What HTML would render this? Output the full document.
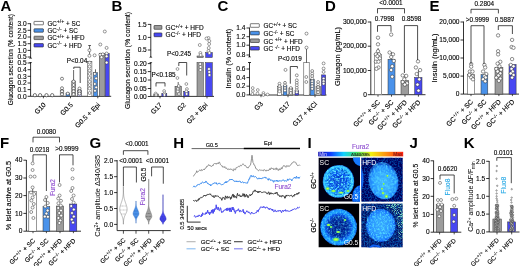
<!DOCTYPE html><html><head><meta charset="utf-8"><style>html,body{margin:0;padding:0;background:#fff;}svg{display:block}</style></head><body><svg width="520" height="266" viewBox="0 0 520 266" font-family="Liberation Sans, Arial, sans-serif">
<rect width="520" height="266" fill="#fff"/>
<text x="0.50" y="10.80" font-size="15" text-anchor="start" fill="#000" font-weight="bold" >A</text>
<text x="13.40" y="59.60" font-size="6.5" text-anchor="middle" fill="#000" stroke="#000" stroke-width="0.12" transform="rotate(-90 13.40 59.60)" >Glucagon secretion (% content)</text>
<line x1="30.60" y1="23.30" x2="30.60" y2="57.50" stroke="#000" stroke-width="0.8"/>
<line x1="30.60" y1="62.60" x2="30.60" y2="96.30" stroke="#000" stroke-width="0.8"/>
<line x1="27.60" y1="23.70" x2="30.60" y2="23.70" stroke="#000" stroke-width="0.8"/>
<text x="26.60" y="25.95" font-size="6.6" text-anchor="end" fill="#000" stroke="#000" stroke-width="0.12" >3.0</text>
<line x1="27.60" y1="30.30" x2="30.60" y2="30.30" stroke="#000" stroke-width="0.8"/>
<text x="26.60" y="32.55" font-size="6.6" text-anchor="end" fill="#000" stroke="#000" stroke-width="0.12" >2.5</text>
<line x1="27.60" y1="37.00" x2="30.60" y2="37.00" stroke="#000" stroke-width="0.8"/>
<text x="26.60" y="39.25" font-size="6.6" text-anchor="end" fill="#000" stroke="#000" stroke-width="0.12" >2.0</text>
<line x1="27.60" y1="43.70" x2="30.60" y2="43.70" stroke="#000" stroke-width="0.8"/>
<text x="26.60" y="45.95" font-size="6.6" text-anchor="end" fill="#000" stroke="#000" stroke-width="0.12" >1.5</text>
<line x1="27.60" y1="50.40" x2="30.60" y2="50.40" stroke="#000" stroke-width="0.8"/>
<text x="26.60" y="52.65" font-size="6.6" text-anchor="end" fill="#000" stroke="#000" stroke-width="0.12" >1.0</text>
<line x1="27.60" y1="57.00" x2="30.60" y2="57.00" stroke="#000" stroke-width="0.8"/>
<text x="26.60" y="59.25" font-size="6.6" text-anchor="end" fill="#000" stroke="#000" stroke-width="0.12" >0.5</text>
<line x1="27.60" y1="63.00" x2="30.60" y2="63.00" stroke="#000" stroke-width="0.8"/>
<text x="26.60" y="65.25" font-size="6.6" text-anchor="end" fill="#000" stroke="#000" stroke-width="0.12" >0.5</text>
<line x1="27.60" y1="69.70" x2="30.60" y2="69.70" stroke="#000" stroke-width="0.8"/>
<text x="26.60" y="71.95" font-size="6.6" text-anchor="end" fill="#000" stroke="#000" stroke-width="0.12" >0.4</text>
<line x1="27.60" y1="76.30" x2="30.60" y2="76.30" stroke="#000" stroke-width="0.8"/>
<text x="26.60" y="78.55" font-size="6.6" text-anchor="end" fill="#000" stroke="#000" stroke-width="0.12" >0.3</text>
<line x1="27.60" y1="83.00" x2="30.60" y2="83.00" stroke="#000" stroke-width="0.8"/>
<text x="26.60" y="85.25" font-size="6.6" text-anchor="end" fill="#000" stroke="#000" stroke-width="0.12" >0.2</text>
<line x1="27.60" y1="89.60" x2="30.60" y2="89.60" stroke="#000" stroke-width="0.8"/>
<text x="26.60" y="91.85" font-size="6.6" text-anchor="end" fill="#000" stroke="#000" stroke-width="0.12" >0.1</text>
<line x1="27.60" y1="96.30" x2="30.60" y2="96.30" stroke="#000" stroke-width="0.8"/>
<text x="26.60" y="98.55" font-size="6.6" text-anchor="end" fill="#000" stroke="#000" stroke-width="0.12" >0.0</text>
<polygon points="29.0,58.6 32.2,58.6 30.6,57" fill="#000"/>
<polygon points="29.0,62.2 32.2,62.2 30.6,63.6" fill="#000"/>
<line x1="30.60" y1="96.30" x2="111.20" y2="96.30" stroke="#000" stroke-width="0.8"/>
<line x1="43.40" y1="96.30" x2="43.40" y2="98.30" stroke="#000" stroke-width="0.7"/>
<line x1="70.50" y1="96.30" x2="70.50" y2="98.30" stroke="#000" stroke-width="0.7"/>
<line x1="97.80" y1="96.30" x2="97.80" y2="98.30" stroke="#000" stroke-width="0.7"/>
<text x="46.30" y="105.40" font-size="6.8" text-anchor="end" fill="#000" stroke="#000" stroke-width="0.12" transform="rotate(-45 46.30 105.40)" >G10</text>
<text x="73.40" y="105.40" font-size="6.8" text-anchor="end" fill="#000" stroke="#000" stroke-width="0.12" transform="rotate(-45 73.40 105.40)" >G0.5</text>
<text x="100.70" y="105.40" font-size="6.8" text-anchor="end" fill="#000" stroke="#000" stroke-width="0.12" transform="rotate(-45 100.70 105.40)" >G0.5 + Epi</text>
<rect x="34" y="21.40" width="9.4" height="3.4" rx="0.45" fill="#ffffff" stroke="#222" stroke-width="0.6"/>
<text x="47.40" y="25.60" font-size="6.3" text-anchor="start" fill="#000" stroke="#000" stroke-width="0.12" >GC<tspan dy="-2.4" font-size="5.2" stroke-width="0.08">+/+</tspan><tspan dy="2.4"> + SC</tspan></text>
<rect x="34" y="28.80" width="9.4" height="3.4" rx="0.45" fill="#4a92ea" stroke="#222" stroke-width="0.6"/>
<text x="47.40" y="33.00" font-size="6.3" text-anchor="start" fill="#000" stroke="#000" stroke-width="0.12" >GC<tspan dy="-2.4" font-size="5.2" stroke-width="0.08">-/-</tspan><tspan dy="2.4"> + SC</tspan></text>
<rect x="34" y="36.20" width="9.4" height="3.4" rx="0.45" fill="#9c9c9c" stroke="#222" stroke-width="0.6"/>
<text x="47.40" y="40.40" font-size="6.3" text-anchor="start" fill="#000" stroke="#000" stroke-width="0.12" >GC<tspan dy="-2.4" font-size="5.2" stroke-width="0.08">+/+</tspan><tspan dy="2.4"> + HFD</tspan></text>
<rect x="34" y="43.60" width="9.4" height="3.4" rx="0.45" fill="#4848f2" stroke="#222" stroke-width="0.6"/>
<text x="47.40" y="47.80" font-size="6.3" text-anchor="start" fill="#000" stroke="#000" stroke-width="0.12" >GC<tspan dy="-2.4" font-size="5.2" stroke-width="0.08">-/-</tspan><tspan dy="2.4"> + HFD</tspan></text>
<circle cx="34.90" cy="95.20" r="1.65" fill="#fff" stroke="#222" stroke-width="0.6"/>
<circle cx="40.10" cy="95.20" r="1.65" fill="#fff" stroke="#222" stroke-width="0.6"/>
<circle cx="46.50" cy="95.20" r="1.65" fill="#fff" stroke="#222" stroke-width="0.6"/>
<circle cx="52.20" cy="95.20" r="1.65" fill="#fff" stroke="#222" stroke-width="0.6"/>
<rect x="60.20" y="90.00" width="3.60" height="6.30" fill="#ffffff" stroke="#333" stroke-width="0.5"/>
<circle cx="62.00" cy="78.70" r="1.5" fill="#fff" stroke="#222" stroke-width="0.55"/>
<circle cx="62.00" cy="88.20" r="1.5" fill="#fff" stroke="#222" stroke-width="0.55"/>
<circle cx="62.00" cy="91.30" r="1.5" fill="#fff" stroke="#222" stroke-width="0.55"/>
<circle cx="62.00" cy="94.20" r="1.5" fill="#fff" stroke="#222" stroke-width="0.55"/>
<rect x="66.00" y="93.00" width="3.60" height="3.30" fill="#4a92ea" stroke="#333" stroke-width="0.5"/>
<circle cx="67.80" cy="93.60" r="1.5" fill="#fff" stroke="#222" stroke-width="0.55"/>
<rect x="71.80" y="81.00" width="3.70" height="15.30" fill="#d0d0d0" stroke="#333" stroke-width="0.5"/>
<line x1="73.60" y1="70.00" x2="73.60" y2="81.00" stroke="#000" stroke-width="0.6"/>
<circle cx="73.60" cy="81.50" r="1.5" fill="#fff" stroke="#222" stroke-width="0.55"/>
<circle cx="73.60" cy="85.00" r="1.5" fill="#fff" stroke="#222" stroke-width="0.55"/>
<circle cx="73.60" cy="88.50" r="1.5" fill="#fff" stroke="#222" stroke-width="0.55"/>
<circle cx="73.60" cy="91.30" r="1.5" fill="#fff" stroke="#222" stroke-width="0.55"/>
<circle cx="73.60" cy="94.20" r="1.5" fill="#fff" stroke="#222" stroke-width="0.55"/>
<rect x="77.60" y="90.00" width="3.80" height="6.30" fill="#c8c8f0" stroke="#333" stroke-width="0.5"/>
<circle cx="79.50" cy="88.50" r="1.5" fill="#fff" stroke="#222" stroke-width="0.55"/>
<circle cx="79.50" cy="91.30" r="1.5" fill="#fff" stroke="#222" stroke-width="0.55"/>
<circle cx="79.50" cy="93.60" r="1.5" fill="#fff" stroke="#222" stroke-width="0.55"/>
<polyline points="73.80,69.00 73.80,67.20 80.20,67.20 80.20,83.00" fill="none" stroke="#000" stroke-width="0.7"/>
<text x="77.00" y="63.00" font-size="6.4" text-anchor="middle" fill="#000" stroke="#000" stroke-width="0.12" >P&lt;0.04</text>
<rect x="87.40" y="61.40" width="4.50" height="34.90" fill="#ffffff" stroke="#333" stroke-width="0.5"/>
<circle cx="89.60" cy="62.60" r="1.45" fill="#fff" stroke="#333" stroke-width="0.5"/>
<circle cx="89.60" cy="66.60" r="1.45" fill="#fff" stroke="#333" stroke-width="0.5"/>
<circle cx="89.60" cy="70.50" r="1.45" fill="#fff" stroke="#333" stroke-width="0.5"/>
<circle cx="89.60" cy="73.90" r="1.45" fill="#fff" stroke="#333" stroke-width="0.5"/>
<circle cx="89.60" cy="77.90" r="1.45" fill="#fff" stroke="#333" stroke-width="0.5"/>
<circle cx="89.60" cy="81.80" r="1.45" fill="#fff" stroke="#333" stroke-width="0.5"/>
<circle cx="89.60" cy="85.10" r="1.45" fill="#fff" stroke="#333" stroke-width="0.5"/>
<circle cx="89.60" cy="88.50" r="1.45" fill="#fff" stroke="#333" stroke-width="0.5"/>
<circle cx="89.60" cy="93.00" r="1.45" fill="#fff" stroke="#333" stroke-width="0.5"/>
<line x1="89.60" y1="45.50" x2="89.60" y2="55.80" stroke="#000" stroke-width="0.6"/>
<line x1="88.20" y1="45.50" x2="91.00" y2="45.50" stroke="#000" stroke-width="0.6"/>
<circle cx="89.40" cy="50.20" r="1.5" fill="#fff" stroke="#333" stroke-width="0.5"/>
<circle cx="89.40" cy="55.80" r="1.5" fill="#fff" stroke="#333" stroke-width="0.5"/>
<circle cx="94.60" cy="55.30" r="1.5" fill="#fff" stroke="#333" stroke-width="0.5"/>
<rect x="93.50" y="72.70" width="4.00" height="23.60" fill="#4a92ea" stroke="#333" stroke-width="0.5"/>
<line x1="95.50" y1="69.30" x2="95.50" y2="72.70" stroke="#000" stroke-width="0.6"/>
<circle cx="94.80" cy="73.90" r="1.45" fill="#fff" stroke="#333" stroke-width="0.5"/>
<circle cx="96.20" cy="78.40" r="1.45" fill="#fff" stroke="#333" stroke-width="0.5"/>
<circle cx="94.80" cy="84.00" r="1.45" fill="#fff" stroke="#333" stroke-width="0.5"/>
<circle cx="96.20" cy="87.40" r="1.45" fill="#fff" stroke="#333" stroke-width="0.5"/>
<circle cx="95.00" cy="90.80" r="1.45" fill="#fff" stroke="#333" stroke-width="0.5"/>
<rect x="99.30" y="53.50" width="5.00" height="42.80" fill="#9c9c9c" stroke="#333" stroke-width="0.5"/>
<circle cx="100.30" cy="44.50" r="1.5" fill="#fff" stroke="#333" stroke-width="0.5"/>
<circle cx="100.30" cy="54.70" r="1.5" fill="#fff" stroke="#333" stroke-width="0.5"/>
<circle cx="102.80" cy="54.30" r="1.5" fill="#fff" stroke="#333" stroke-width="0.5"/>
<circle cx="101.50" cy="57.20" r="1.5" fill="#fff" stroke="#333" stroke-width="0.5"/>
<rect x="105.20" y="53.50" width="4.00" height="42.80" fill="#4848f2" stroke="#333" stroke-width="0.5"/>
<circle cx="106.60" cy="47.90" r="1.5" fill="#fff" stroke="#333" stroke-width="0.5"/>
<circle cx="106.60" cy="53.50" r="1.5" fill="#fff" stroke="#333" stroke-width="0.5"/>
<circle cx="106.60" cy="56.30" r="1.5" fill="#fff" stroke="#333" stroke-width="0.5"/>
<circle cx="106.60" cy="62.60" r="1.5" fill="#fff" stroke="#333" stroke-width="0.5"/>
<circle cx="104.80" cy="31.50" r="1.5" fill="#fff" stroke="#333" stroke-width="0.5"/>
<text x="111.60" y="10.80" font-size="15" text-anchor="start" fill="#000" font-weight="bold" >B</text>
<text x="130.00" y="60.50" font-size="6.95" text-anchor="middle" fill="#000" stroke="#000" stroke-width="0.12" transform="rotate(-90 130.00 60.50)" >Glucagon secretion (% content)</text>
<line x1="150.80" y1="24.00" x2="150.80" y2="56.50" stroke="#000" stroke-width="0.8"/>
<line x1="150.80" y1="63.00" x2="150.80" y2="96.40" stroke="#000" stroke-width="0.8"/>
<line x1="147.80" y1="24.40" x2="150.80" y2="24.40" stroke="#000" stroke-width="0.8"/>
<text x="146.80" y="26.65" font-size="6.6" text-anchor="end" fill="#000" stroke="#000" stroke-width="0.12" >1.5</text>
<line x1="147.80" y1="37.40" x2="150.80" y2="37.40" stroke="#000" stroke-width="0.8"/>
<text x="146.80" y="39.65" font-size="6.6" text-anchor="end" fill="#000" stroke="#000" stroke-width="0.12" >1.0</text>
<line x1="147.80" y1="50.00" x2="150.80" y2="50.00" stroke="#000" stroke-width="0.8"/>
<text x="146.80" y="52.25" font-size="6.6" text-anchor="end" fill="#000" stroke="#000" stroke-width="0.12" >0.5</text>
<line x1="147.80" y1="63.60" x2="150.80" y2="63.60" stroke="#000" stroke-width="0.8"/>
<text x="146.80" y="65.85" font-size="6.6" text-anchor="end" fill="#000" stroke="#000" stroke-width="0.12" >0.20</text>
<line x1="147.80" y1="71.60" x2="150.80" y2="71.60" stroke="#000" stroke-width="0.8"/>
<text x="146.80" y="73.85" font-size="6.6" text-anchor="end" fill="#000" stroke="#000" stroke-width="0.12" >0.15</text>
<line x1="147.80" y1="80.00" x2="150.80" y2="80.00" stroke="#000" stroke-width="0.8"/>
<text x="146.80" y="82.25" font-size="6.6" text-anchor="end" fill="#000" stroke="#000" stroke-width="0.12" >0.10</text>
<line x1="147.80" y1="88.50" x2="150.80" y2="88.50" stroke="#000" stroke-width="0.8"/>
<text x="146.80" y="90.75" font-size="6.6" text-anchor="end" fill="#000" stroke="#000" stroke-width="0.12" >0.05</text>
<line x1="147.80" y1="96.50" x2="150.80" y2="96.50" stroke="#000" stroke-width="0.8"/>
<text x="146.80" y="98.75" font-size="6.6" text-anchor="end" fill="#000" stroke="#000" stroke-width="0.12" >0.00</text>
<polygon points="149.20000000000002,57.6 152.4,57.6 150.8,56" fill="#000"/>
<polygon points="149.20000000000002,62.2 152.4,62.2 150.8,63.6" fill="#000"/>
<line x1="150.80" y1="96.40" x2="214.00" y2="96.40" stroke="#000" stroke-width="0.8"/>
<line x1="160.00" y1="96.40" x2="160.00" y2="98.40" stroke="#000" stroke-width="0.7"/>
<line x1="184.00" y1="96.40" x2="184.00" y2="98.40" stroke="#000" stroke-width="0.7"/>
<line x1="207.00" y1="96.40" x2="207.00" y2="98.40" stroke="#000" stroke-width="0.7"/>
<text x="162.50" y="105.40" font-size="6.8" text-anchor="end" fill="#000" stroke="#000" stroke-width="0.12" transform="rotate(-45 162.50 105.40)" >G17</text>
<text x="186.50" y="105.40" font-size="6.8" text-anchor="end" fill="#000" stroke="#000" stroke-width="0.12" transform="rotate(-45 186.50 105.40)" >G2</text>
<text x="208.00" y="105.40" font-size="6.8" text-anchor="end" fill="#000" stroke="#000" stroke-width="0.12" transform="rotate(-45 208.00 105.40)" >G2 + Epi</text>
<rect x="154" y="25.50" width="7.9" height="3.8" rx="0.45" fill="#9c9c9c" stroke="#222" stroke-width="0.6"/>
<text x="165.60" y="30.00" font-size="6.5" text-anchor="start" fill="#000" stroke="#000" stroke-width="0.12" >GC<tspan dy="-2.4" font-size="5.2" stroke-width="0.08">+/+</tspan><tspan dy="2.4"> + HFD</tspan></text>
<rect x="154" y="32.90" width="7.9" height="3.8" rx="0.45" fill="#4848f2" stroke="#222" stroke-width="0.6"/>
<text x="165.60" y="37.40" font-size="6.5" text-anchor="start" fill="#000" stroke="#000" stroke-width="0.12" >GC<tspan dy="-2.4" font-size="5.2" stroke-width="0.08">-/-</tspan><tspan dy="2.4"> + HFD</tspan></text>
<rect x="153.80" y="94.00" width="4.60" height="2.40" fill="#9c9c9c" stroke="#333" stroke-width="0.5"/>
<circle cx="155.69" cy="93.50" r="1.4" fill="#fff" stroke="#444" stroke-width="0.5"/>
<circle cx="156.05" cy="95.00" r="1.4" fill="#fff" stroke="#444" stroke-width="0.5"/>
<rect x="161.80" y="93.50" width="5.00" height="2.90" fill="#4848f2" stroke="#333" stroke-width="0.5"/>
<circle cx="164.14" cy="91.00" r="1.4" fill="#fff" stroke="#444" stroke-width="0.5"/>
<circle cx="164.42" cy="93.50" r="1.4" fill="#fff" stroke="#444" stroke-width="0.5"/>
<circle cx="164.45" cy="95.00" r="1.4" fill="#fff" stroke="#444" stroke-width="0.5"/>
<polyline points="156.00,86.50 156.00,82.80 165.00,82.80 165.00,86.50" fill="none" stroke="#000" stroke-width="0.7"/>
<text x="163.50" y="77.00" font-size="6.4" text-anchor="middle" fill="#000" stroke="#000" stroke-width="0.12" >P&lt;0.185</text>
<rect x="175.00" y="86.40" width="6.30" height="10.00" fill="#9c9c9c" stroke="#333" stroke-width="0.5"/>
<line x1="178.20" y1="82.00" x2="178.20" y2="86.40" stroke="#000" stroke-width="0.6"/>
<circle cx="177.50" cy="69.00" r="1.4" fill="#fff" stroke="#444" stroke-width="0.5"/>
<circle cx="177.42" cy="78.00" r="1.4" fill="#fff" stroke="#444" stroke-width="0.5"/>
<circle cx="178.74" cy="86.00" r="1.4" fill="#fff" stroke="#444" stroke-width="0.5"/>
<circle cx="177.81" cy="89.00" r="1.4" fill="#fff" stroke="#444" stroke-width="0.5"/>
<circle cx="177.77" cy="91.50" r="1.4" fill="#fff" stroke="#444" stroke-width="0.5"/>
<circle cx="178.99" cy="94.00" r="1.4" fill="#fff" stroke="#444" stroke-width="0.5"/>
<rect x="183.70" y="91.30" width="5.30" height="5.10" fill="#4848f2" stroke="#333" stroke-width="0.5"/>
<circle cx="186.35" cy="84.00" r="1.4" fill="#fff" stroke="#444" stroke-width="0.5"/>
<circle cx="186.94" cy="89.00" r="1.4" fill="#fff" stroke="#444" stroke-width="0.5"/>
<circle cx="186.36" cy="91.50" r="1.4" fill="#fff" stroke="#444" stroke-width="0.5"/>
<circle cx="186.62" cy="94.00" r="1.4" fill="#fff" stroke="#444" stroke-width="0.5"/>
<polyline points="178.80,66.00 178.80,62.50 186.70,62.50 186.70,75.50" fill="none" stroke="#000" stroke-width="0.7"/>
<text x="179.00" y="55.50" font-size="6.4" text-anchor="middle" fill="#000" stroke="#000" stroke-width="0.12" >P&lt;0.245</text>
<rect x="197.00" y="62.60" width="6.30" height="33.80" fill="#9c9c9c" stroke="#333" stroke-width="0.5"/>
<rect x="197.00" y="56.00" width="6.30" height="1.50" fill="#9c9c9c" stroke="#333" stroke-width="0.5"/>
<rect x="205.70" y="62.60" width="6.60" height="33.80" fill="#4848f2" stroke="#333" stroke-width="0.5"/>
<rect x="205.70" y="52.60" width="6.60" height="4.90" fill="#4848f2" stroke="#333" stroke-width="0.5"/>
<circle cx="199.78" cy="45.00" r="1.5" fill="#fff" stroke="#444" stroke-width="0.5"/>
<circle cx="200.36" cy="53.00" r="1.5" fill="#fff" stroke="#444" stroke-width="0.5"/>
<circle cx="200.64" cy="55.00" r="1.5" fill="#fff" stroke="#444" stroke-width="0.5"/>
<circle cx="200.23" cy="64.00" r="1.5" fill="#fff" stroke="#444" stroke-width="0.5"/>
<circle cx="200.49" cy="67.00" r="1.5" fill="#fff" stroke="#444" stroke-width="0.5"/>
<circle cx="200.41" cy="70.00" r="1.5" fill="#fff" stroke="#444" stroke-width="0.5"/>
<circle cx="208.48" cy="38.00" r="1.5" fill="#fff" stroke="#444" stroke-width="0.5"/>
<circle cx="209.31" cy="41.00" r="1.5" fill="#fff" stroke="#444" stroke-width="0.5"/>
<circle cx="209.11" cy="44.00" r="1.5" fill="#fff" stroke="#444" stroke-width="0.5"/>
<circle cx="208.76" cy="48.00" r="1.5" fill="#fff" stroke="#444" stroke-width="0.5"/>
<circle cx="208.44" cy="51.00" r="1.5" fill="#fff" stroke="#444" stroke-width="0.5"/>
<circle cx="209.44" cy="53.00" r="1.5" fill="#fff" stroke="#444" stroke-width="0.5"/>
<circle cx="208.97" cy="69.00" r="1.5" fill="#fff" stroke="#444" stroke-width="0.5"/>
<circle cx="209.26" cy="72.00" r="1.5" fill="#fff" stroke="#444" stroke-width="0.5"/>
<circle cx="209.45" cy="75.00" r="1.5" fill="#fff" stroke="#444" stroke-width="0.5"/>
<circle cx="206.50" cy="38.50" r="1.5" fill="#fff" stroke="#333" stroke-width="0.5"/>
<text x="217.60" y="11.40" font-size="15" text-anchor="start" fill="#000" font-weight="bold" >C</text>
<text x="231.50" y="58.70" font-size="7.2" text-anchor="middle" fill="#000" stroke="#000" stroke-width="0.12" transform="rotate(-90 231.50 58.70)" >Insulin (% content)</text>
<line x1="249.50" y1="27.50" x2="249.50" y2="56.20" stroke="#000" stroke-width="0.8"/>
<line x1="249.50" y1="62.50" x2="249.50" y2="95.00" stroke="#000" stroke-width="0.8"/>
<line x1="246.50" y1="28.00" x2="249.50" y2="28.00" stroke="#000" stroke-width="0.8"/>
<text x="245.50" y="30.25" font-size="6.6" text-anchor="end" fill="#000" stroke="#000" stroke-width="0.12" >1.4</text>
<line x1="246.50" y1="36.70" x2="249.50" y2="36.70" stroke="#000" stroke-width="0.8"/>
<text x="245.50" y="38.95" font-size="6.6" text-anchor="end" fill="#000" stroke="#000" stroke-width="0.12" >1.2</text>
<line x1="246.50" y1="45.20" x2="249.50" y2="45.20" stroke="#000" stroke-width="0.8"/>
<text x="245.50" y="47.45" font-size="6.6" text-anchor="end" fill="#000" stroke="#000" stroke-width="0.12" >1.0</text>
<line x1="246.50" y1="55.00" x2="249.50" y2="55.00" stroke="#000" stroke-width="0.8"/>
<text x="245.50" y="57.25" font-size="6.6" text-anchor="end" fill="#000" stroke="#000" stroke-width="0.12" >0.8</text>
<line x1="246.50" y1="69.00" x2="249.50" y2="69.00" stroke="#000" stroke-width="0.8"/>
<text x="245.50" y="71.25" font-size="6.6" text-anchor="end" fill="#000" stroke="#000" stroke-width="0.12" >0.6</text>
<line x1="246.50" y1="77.60" x2="249.50" y2="77.60" stroke="#000" stroke-width="0.8"/>
<text x="245.50" y="79.85" font-size="6.6" text-anchor="end" fill="#000" stroke="#000" stroke-width="0.12" >0.4</text>
<line x1="246.50" y1="86.20" x2="249.50" y2="86.20" stroke="#000" stroke-width="0.8"/>
<text x="245.50" y="88.45" font-size="6.6" text-anchor="end" fill="#000" stroke="#000" stroke-width="0.12" >0.2</text>
<line x1="246.50" y1="94.90" x2="249.50" y2="94.90" stroke="#000" stroke-width="0.8"/>
<text x="245.50" y="97.15" font-size="6.6" text-anchor="end" fill="#000" stroke="#000" stroke-width="0.12" >0.0</text>
<polygon points="248.0,57.2 251.0,57.2 249.5,55.8" fill="#000"/>
<line x1="248.00" y1="62.50" x2="251.00" y2="62.50" stroke="#000" stroke-width="0.8"/>
<line x1="249.50" y1="95.00" x2="326.50" y2="95.00" stroke="#000" stroke-width="0.8"/>
<line x1="261.00" y1="95.00" x2="261.00" y2="97.20" stroke="#000" stroke-width="0.7"/>
<line x1="288.00" y1="95.00" x2="288.00" y2="97.20" stroke="#000" stroke-width="0.7"/>
<line x1="315.00" y1="95.00" x2="315.00" y2="97.20" stroke="#000" stroke-width="0.7"/>
<text x="263.50" y="104.40" font-size="6.8" text-anchor="end" fill="#000" stroke="#000" stroke-width="0.12" transform="rotate(-45 263.50 104.40)" >G3</text>
<text x="290.50" y="104.40" font-size="6.8" text-anchor="end" fill="#000" stroke="#000" stroke-width="0.12" transform="rotate(-45 290.50 104.40)" >G17</text>
<text x="317.50" y="104.40" font-size="6.8" text-anchor="end" fill="#000" stroke="#000" stroke-width="0.12" transform="rotate(-45 317.50 104.40)" >G17 + KCl</text>
<rect x="250.3" y="23.70" width="9" height="3.6" rx="0.45" fill="#ffffff" stroke="#222" stroke-width="0.6"/>
<text x="263.60" y="28.30" font-size="6.4" text-anchor="start" fill="#000" stroke="#000" stroke-width="0.12" >GC<tspan dy="-2.4" font-size="5.2" stroke-width="0.08">+/+</tspan><tspan dy="2.4"> + SC</tspan></text>
<rect x="250.3" y="31.30" width="9" height="3.6" rx="0.45" fill="#4a92ea" stroke="#222" stroke-width="0.6"/>
<text x="263.60" y="35.90" font-size="6.4" text-anchor="start" fill="#000" stroke="#000" stroke-width="0.12" >GC<tspan dy="-2.4" font-size="5.2" stroke-width="0.08">-/-</tspan><tspan dy="2.4"> + SC</tspan></text>
<rect x="250.3" y="38.90" width="9" height="3.6" rx="0.45" fill="#9c9c9c" stroke="#222" stroke-width="0.6"/>
<text x="263.60" y="43.50" font-size="6.4" text-anchor="start" fill="#000" stroke="#000" stroke-width="0.12" >GC<tspan dy="-2.4" font-size="5.2" stroke-width="0.08"> +/+</tspan><tspan dy="2.4"> + HFD</tspan></text>
<rect x="250.3" y="46.50" width="9" height="3.6" rx="0.45" fill="#4848f2" stroke="#222" stroke-width="0.6"/>
<text x="263.60" y="51.10" font-size="6.4" text-anchor="start" fill="#000" stroke="#000" stroke-width="0.12" >GC<tspan dy="-2.4" font-size="5.2" stroke-width="0.08"> -/-</tspan><tspan dy="2.4"> + HFD</tspan></text>
<circle cx="252.71" cy="88.00" r="1.4" fill="#fff" stroke="#444" stroke-width="0.5"/>
<circle cx="252.92" cy="91.00" r="1.4" fill="#fff" stroke="#444" stroke-width="0.5"/>
<circle cx="252.39" cy="94.00" r="1.4" fill="#fff" stroke="#444" stroke-width="0.5"/>
<circle cx="257.80" cy="90.00" r="1.4" fill="#fff" stroke="#444" stroke-width="0.5"/>
<circle cx="257.44" cy="93.50" r="1.4" fill="#fff" stroke="#444" stroke-width="0.5"/>
<circle cx="263.44" cy="93.00" r="1.4" fill="#fff" stroke="#444" stroke-width="0.5"/>
<circle cx="263.38" cy="95.00" r="1.4" fill="#fff" stroke="#444" stroke-width="0.5"/>
<circle cx="267.60" cy="94.50" r="1.4" fill="#fff" stroke="#444" stroke-width="0.5"/>
<rect x="277.60" y="86.20" width="3.90" height="9.10" fill="#ffffff" stroke="#333" stroke-width="0.5"/>
<circle cx="279.50" cy="83.70" r="1.45" fill="#fff" stroke="#333" stroke-width="0.5"/>
<circle cx="279.50" cy="86.20" r="1.45" fill="#fff" stroke="#333" stroke-width="0.5"/>
<circle cx="279.50" cy="88.80" r="1.45" fill="#fff" stroke="#333" stroke-width="0.5"/>
<circle cx="279.50" cy="91.30" r="1.45" fill="#fff" stroke="#333" stroke-width="0.5"/>
<rect x="283.20" y="85.40" width="3.70" height="9.80" fill="#4a92ea" stroke="#333" stroke-width="0.5"/>
<line x1="285.00" y1="81.20" x2="285.00" y2="85.40" stroke="#000" stroke-width="0.6"/>
<circle cx="285.00" cy="82.90" r="1.45" fill="#fff" stroke="#333" stroke-width="0.5"/>
<circle cx="285.00" cy="85.40" r="1.45" fill="#fff" stroke="#333" stroke-width="0.5"/>
<circle cx="285.00" cy="88.00" r="1.45" fill="#fff" stroke="#333" stroke-width="0.5"/>
<circle cx="285.00" cy="90.50" r="1.45" fill="#fff" stroke="#333" stroke-width="0.5"/>
<rect x="288.90" y="88.00" width="3.90" height="7.20" fill="#c8c8c8" stroke="#333" stroke-width="0.5"/>
<circle cx="290.80" cy="88.00" r="1.45" fill="#fff" stroke="#333" stroke-width="0.5"/>
<circle cx="290.80" cy="90.50" r="1.45" fill="#fff" stroke="#333" stroke-width="0.5"/>
<circle cx="290.80" cy="93.00" r="1.45" fill="#fff" stroke="#333" stroke-width="0.5"/>
<rect x="295.00" y="90.50" width="3.70" height="4.70" fill="#4848f2" stroke="#333" stroke-width="0.5"/>
<circle cx="296.80" cy="75.30" r="1.45" fill="#fff" stroke="#333" stroke-width="0.5"/>
<circle cx="296.80" cy="80.30" r="1.45" fill="#fff" stroke="#333" stroke-width="0.5"/>
<circle cx="296.80" cy="82.80" r="1.45" fill="#fff" stroke="#333" stroke-width="0.5"/>
<circle cx="296.80" cy="85.30" r="1.45" fill="#fff" stroke="#333" stroke-width="0.5"/>
<circle cx="296.80" cy="87.80" r="1.45" fill="#fff" stroke="#333" stroke-width="0.5"/>
<circle cx="296.80" cy="90.30" r="1.45" fill="#fff" stroke="#333" stroke-width="0.5"/>
<circle cx="296.80" cy="92.30" r="1.45" fill="#fff" stroke="#333" stroke-width="0.5"/>
<circle cx="285.50" cy="69.90" r="1.5" fill="#fff" stroke="#333" stroke-width="0.5"/>
<polyline points="290.30,83.70 290.30,66.50 297.40,66.50 297.40,68.50" fill="none" stroke="#000" stroke-width="0.7"/>
<text x="289.90" y="61.40" font-size="6.4" text-anchor="middle" fill="#000" stroke="#000" stroke-width="0.12" >P&lt;0.019</text>
<rect x="303.80" y="62.60" width="5.40" height="32.60" fill="#ffffff" stroke="#333" stroke-width="0.5"/>
<line x1="306.50" y1="49.00" x2="306.50" y2="62.60" stroke="#000" stroke-width="0.6"/>
<circle cx="306.50" cy="47.60" r="1.5" fill="#fff" stroke="#333" stroke-width="0.5"/>
<circle cx="306.50" cy="33.60" r="1.5" fill="#fff" stroke="#333" stroke-width="0.5"/>
<circle cx="306.30" cy="77.00" r="1.45" fill="#fff" stroke="#333" stroke-width="0.5"/>
<circle cx="306.30" cy="82.00" r="1.45" fill="#fff" stroke="#333" stroke-width="0.5"/>
<rect x="310.20" y="79.50" width="4.10" height="15.70" fill="#4a92ea" stroke="#333" stroke-width="0.5"/>
<circle cx="312.20" cy="71.00" r="1.45" fill="#fff" stroke="#333" stroke-width="0.5"/>
<circle cx="312.20" cy="73.60" r="1.45" fill="#fff" stroke="#333" stroke-width="0.5"/>
<circle cx="312.20" cy="76.10" r="1.45" fill="#fff" stroke="#333" stroke-width="0.5"/>
<circle cx="312.20" cy="78.60" r="1.45" fill="#fff" stroke="#333" stroke-width="0.5"/>
<circle cx="312.20" cy="81.20" r="1.45" fill="#fff" stroke="#333" stroke-width="0.5"/>
<circle cx="312.20" cy="83.70" r="1.45" fill="#fff" stroke="#333" stroke-width="0.5"/>
<circle cx="312.20" cy="86.20" r="1.45" fill="#fff" stroke="#333" stroke-width="0.5"/>
<circle cx="312.20" cy="88.80" r="1.45" fill="#fff" stroke="#333" stroke-width="0.5"/>
<rect x="316.00" y="86.20" width="4.30" height="9.00" fill="#c8c8c8" stroke="#333" stroke-width="0.5"/>
<circle cx="318.10" cy="82.00" r="1.45" fill="#fff" stroke="#333" stroke-width="0.5"/>
<circle cx="318.10" cy="84.60" r="1.45" fill="#fff" stroke="#333" stroke-width="0.5"/>
<circle cx="318.10" cy="87.10" r="1.45" fill="#fff" stroke="#333" stroke-width="0.5"/>
<circle cx="318.10" cy="89.60" r="1.45" fill="#fff" stroke="#333" stroke-width="0.5"/>
<circle cx="318.10" cy="92.20" r="1.45" fill="#fff" stroke="#333" stroke-width="0.5"/>
<rect x="321.50" y="74.90" width="4.20" height="20.30" fill="#4848f2" stroke="#333" stroke-width="0.5"/>
<circle cx="323.60" cy="63.40" r="1.45" fill="#fff" stroke="#333" stroke-width="0.5"/>
<circle cx="323.60" cy="68.50" r="1.45" fill="#fff" stroke="#333" stroke-width="0.5"/>
<circle cx="323.60" cy="71.90" r="1.45" fill="#fff" stroke="#333" stroke-width="0.5"/>
<circle cx="323.60" cy="78.60" r="1.45" fill="#fff" stroke="#333" stroke-width="0.5"/>
<circle cx="323.60" cy="81.20" r="1.45" fill="#fff" stroke="#333" stroke-width="0.5"/>
<circle cx="323.60" cy="83.70" r="1.45" fill="#fff" stroke="#333" stroke-width="0.5"/>
<text x="325.00" y="10.80" font-size="15" text-anchor="start" fill="#000" font-weight="bold" >D</text>
<text x="340.00" y="56.50" font-size="7.4" text-anchor="middle" fill="#000" stroke="#000" stroke-width="0.12" transform="rotate(-90 340.00 56.50)" >Glucagon (pg/mL)</text>
<line x1="370.80" y1="21.50" x2="370.80" y2="94.70" stroke="#000" stroke-width="0.8"/>
<line x1="367.80" y1="22.00" x2="370.80" y2="22.00" stroke="#000" stroke-width="0.8"/>
<text x="366.80" y="24.25" font-size="6.6" text-anchor="end" fill="#000" stroke="#000" stroke-width="0.12" >300,000</text>
<line x1="367.80" y1="46.20" x2="370.80" y2="46.20" stroke="#000" stroke-width="0.8"/>
<text x="366.80" y="48.45" font-size="6.6" text-anchor="end" fill="#000" stroke="#000" stroke-width="0.12" >200,000</text>
<line x1="367.80" y1="70.50" x2="370.80" y2="70.50" stroke="#000" stroke-width="0.8"/>
<text x="366.80" y="72.75" font-size="6.6" text-anchor="end" fill="#000" stroke="#000" stroke-width="0.12" >100,000</text>
<line x1="367.80" y1="94.70" x2="370.80" y2="94.70" stroke="#000" stroke-width="0.8"/>
<text x="366.80" y="96.95" font-size="6.6" text-anchor="end" fill="#000" stroke="#000" stroke-width="0.12" >0</text>
<line x1="370.80" y1="94.70" x2="425.50" y2="94.70" stroke="#000" stroke-width="0.8"/>
<line x1="378.00" y1="94.70" x2="378.00" y2="96.70" stroke="#000" stroke-width="0.7"/>
<line x1="391.50" y1="94.70" x2="391.50" y2="96.70" stroke="#000" stroke-width="0.7"/>
<line x1="405.00" y1="94.70" x2="405.00" y2="96.70" stroke="#000" stroke-width="0.7"/>
<line x1="418.40" y1="94.70" x2="418.40" y2="96.70" stroke="#000" stroke-width="0.7"/>
<rect x="374.60" y="54.30" width="7.10" height="40.40" fill="#ffffff" stroke="#333" stroke-width="0.5"/>
<line x1="378.10" y1="48.00" x2="378.10" y2="54.30" stroke="#000" stroke-width="0.6"/>
<circle cx="378.00" cy="37.70" r="1.7" fill="#fff" stroke="#333" stroke-width="0.55"/>
<circle cx="378.00" cy="44.30" r="1.7" fill="#fff" stroke="#333" stroke-width="0.55"/>
<circle cx="378.00" cy="51.20" r="1.7" fill="#fff" stroke="#333" stroke-width="0.55"/>
<circle cx="375.90" cy="54.30" r="1.7" fill="#fff" stroke="#333" stroke-width="0.55"/>
<circle cx="379.00" cy="54.30" r="1.7" fill="#fff" stroke="#333" stroke-width="0.55"/>
<circle cx="377.50" cy="56.20" r="1.7" fill="#fff" stroke="#333" stroke-width="0.55"/>
<circle cx="379.80" cy="58.30" r="1.7" fill="#fff" stroke="#333" stroke-width="0.55"/>
<circle cx="375.90" cy="61.70" r="1.7" fill="#fff" stroke="#333" stroke-width="0.55"/>
<circle cx="378.50" cy="61.70" r="1.7" fill="#fff" stroke="#333" stroke-width="0.55"/>
<circle cx="378.50" cy="67.50" r="1.7" fill="#fff" stroke="#333" stroke-width="0.55"/>
<circle cx="376.40" cy="68.80" r="1.7" fill="#fff" stroke="#333" stroke-width="0.55"/>
<rect x="388.00" y="59.30" width="7.00" height="35.40" fill="#4a92ea" stroke="#333" stroke-width="0.5"/>
<line x1="391.50" y1="52.00" x2="391.50" y2="59.30" stroke="#000" stroke-width="0.6"/>
<circle cx="391.20" cy="34.60" r="1.7" fill="#fff" stroke="#333" stroke-width="0.55"/>
<circle cx="389.60" cy="52.50" r="1.7" fill="#fff" stroke="#333" stroke-width="0.55"/>
<circle cx="393.00" cy="54.30" r="1.7" fill="#fff" stroke="#333" stroke-width="0.55"/>
<circle cx="391.20" cy="57.00" r="1.7" fill="#fff" stroke="#333" stroke-width="0.55"/>
<circle cx="393.80" cy="60.90" r="1.7" fill="#fff" stroke="#333" stroke-width="0.55"/>
<circle cx="392.20" cy="66.20" r="1.7" fill="#fff" stroke="#333" stroke-width="0.55"/>
<circle cx="391.20" cy="70.00" r="1.7" fill="#fff" stroke="#333" stroke-width="0.55"/>
<circle cx="392.20" cy="76.70" r="1.7" fill="#fff" stroke="#333" stroke-width="0.55"/>
<rect x="401.00" y="80.50" width="7.60" height="14.20" fill="#9c9c9c" stroke="#333" stroke-width="0.5"/>
<line x1="404.80" y1="76.00" x2="404.80" y2="80.50" stroke="#000" stroke-width="0.6"/>
<circle cx="402.70" cy="75.40" r="1.7" fill="#fff" stroke="#333" stroke-width="0.55"/>
<circle cx="406.20" cy="75.90" r="1.7" fill="#fff" stroke="#333" stroke-width="0.55"/>
<circle cx="404.30" cy="79.30" r="1.7" fill="#fff" stroke="#333" stroke-width="0.55"/>
<circle cx="402.70" cy="82.00" r="1.7" fill="#fff" stroke="#333" stroke-width="0.55"/>
<circle cx="407.00" cy="83.30" r="1.7" fill="#fff" stroke="#333" stroke-width="0.55"/>
<circle cx="404.80" cy="84.60" r="1.7" fill="#fff" stroke="#333" stroke-width="0.55"/>
<rect x="414.70" y="77.50" width="7.30" height="17.20" fill="#4848f2" stroke="#333" stroke-width="0.5"/>
<line x1="418.40" y1="70.00" x2="418.40" y2="77.50" stroke="#000" stroke-width="0.6"/>
<circle cx="418.00" cy="61.40" r="1.7" fill="#fff" stroke="#333" stroke-width="0.55"/>
<circle cx="415.90" cy="67.50" r="1.7" fill="#fff" stroke="#333" stroke-width="0.55"/>
<circle cx="420.10" cy="70.10" r="1.7" fill="#fff" stroke="#333" stroke-width="0.55"/>
<circle cx="416.70" cy="74.00" r="1.7" fill="#fff" stroke="#333" stroke-width="0.55"/>
<circle cx="419.30" cy="79.30" r="1.7" fill="#fff" stroke="#333" stroke-width="0.55"/>
<circle cx="417.50" cy="84.60" r="1.7" fill="#fff" stroke="#333" stroke-width="0.55"/>
<circle cx="418.50" cy="90.60" r="1.7" fill="#fff" stroke="#333" stroke-width="0.55"/>
<text x="391.00" y="5.00" font-size="6.4" text-anchor="middle" fill="#000" stroke="#000" stroke-width="0.12" >&lt;0.0001</text>
<polyline points="377.50,13.40 377.50,8.60 404.50,8.60 404.50,13.40" fill="none" stroke="#000" stroke-width="0.7"/>
<text x="384.50" y="21.10" font-size="6.4" text-anchor="middle" fill="#000" stroke="#000" stroke-width="0.12" >0.7998</text>
<polyline points="377.50,31.80 377.50,25.60 391.00,25.60 391.00,31.80" fill="none" stroke="#000" stroke-width="0.7"/>
<text x="411.50" y="21.10" font-size="6.4" text-anchor="middle" fill="#000" stroke="#000" stroke-width="0.12" >0.8598</text>
<polyline points="404.40,73.00 404.40,25.60 417.60,25.60 417.60,60.00" fill="none" stroke="#000" stroke-width="0.7"/>
<text x="380.60" y="102.70" font-size="6.8" text-anchor="end" fill="#000" stroke="#000" stroke-width="0.12" transform="rotate(-45 380.60 102.70)" >GC<tspan dy="-2.4" font-size="5.0" stroke-width="0.08">+/+</tspan><tspan dy="2.4"> + SC</tspan></text>
<text x="394.10" y="102.70" font-size="6.8" text-anchor="end" fill="#000" stroke="#000" stroke-width="0.12" transform="rotate(-45 394.10 102.70)" >GC<tspan dy="-2.4" font-size="5.0" stroke-width="0.08">-/-</tspan><tspan dy="2.4"> + SC</tspan></text>
<text x="407.60" y="102.70" font-size="6.8" text-anchor="end" fill="#000" stroke="#000" stroke-width="0.12" transform="rotate(-45 407.60 102.70)" >GC<tspan dy="-2.4" font-size="5.0" stroke-width="0.08">+/+</tspan><tspan dy="2.4"> + HFD</tspan></text>
<text x="421.00" y="102.70" font-size="6.8" text-anchor="end" fill="#000" stroke="#000" stroke-width="0.12" transform="rotate(-45 421.00 102.70)" >GC<tspan dy="-2.4" font-size="5.0" stroke-width="0.08">-/-</tspan><tspan dy="2.4"> + HFD</tspan></text>
<text x="429.60" y="10.80" font-size="15" text-anchor="start" fill="#000" font-weight="bold" >E</text>
<text x="436.50" y="58.00" font-size="7.4" text-anchor="middle" fill="#000" stroke="#000" stroke-width="0.12" transform="rotate(-90 436.50 58.00)" >Insulin (ng/mL)</text>
<line x1="463.50" y1="21.50" x2="463.50" y2="94.10" stroke="#000" stroke-width="0.8"/>
<line x1="460.50" y1="22.00" x2="463.50" y2="22.00" stroke="#000" stroke-width="0.8"/>
<text x="459.50" y="24.25" font-size="6.6" text-anchor="end" fill="#000" stroke="#000" stroke-width="0.12" >20,000</text>
<line x1="460.50" y1="40.00" x2="463.50" y2="40.00" stroke="#000" stroke-width="0.8"/>
<text x="459.50" y="42.25" font-size="6.6" text-anchor="end" fill="#000" stroke="#000" stroke-width="0.12" >15,000</text>
<line x1="460.50" y1="58.00" x2="463.50" y2="58.00" stroke="#000" stroke-width="0.8"/>
<text x="459.50" y="60.25" font-size="6.6" text-anchor="end" fill="#000" stroke="#000" stroke-width="0.12" >10,000</text>
<line x1="460.50" y1="76.10" x2="463.50" y2="76.10" stroke="#000" stroke-width="0.8"/>
<text x="459.50" y="78.35" font-size="6.6" text-anchor="end" fill="#000" stroke="#000" stroke-width="0.12" >5,000</text>
<line x1="460.50" y1="94.10" x2="463.50" y2="94.10" stroke="#000" stroke-width="0.8"/>
<text x="459.50" y="96.35" font-size="6.6" text-anchor="end" fill="#000" stroke="#000" stroke-width="0.12" >0</text>
<line x1="463.50" y1="94.10" x2="519.00" y2="94.10" stroke="#000" stroke-width="0.8"/>
<line x1="471.00" y1="94.10" x2="471.00" y2="96.10" stroke="#000" stroke-width="0.7"/>
<line x1="484.30" y1="94.10" x2="484.30" y2="96.10" stroke="#000" stroke-width="0.7"/>
<line x1="498.90" y1="94.10" x2="498.90" y2="96.10" stroke="#000" stroke-width="0.7"/>
<line x1="512.40" y1="94.10" x2="512.40" y2="96.10" stroke="#000" stroke-width="0.7"/>
<rect x="467.30" y="74.20" width="7.40" height="19.90" fill="#ffffff" stroke="#333" stroke-width="0.5"/>
<circle cx="471.20" cy="64.10" r="1.7" fill="#fff" stroke="#333" stroke-width="0.55"/>
<circle cx="471.20" cy="66.70" r="1.7" fill="#fff" stroke="#333" stroke-width="0.55"/>
<circle cx="469.90" cy="71.50" r="1.7" fill="#fff" stroke="#333" stroke-width="0.55"/>
<circle cx="472.50" cy="71.50" r="1.7" fill="#fff" stroke="#333" stroke-width="0.55"/>
<circle cx="469.40" cy="74.90" r="1.7" fill="#fff" stroke="#333" stroke-width="0.55"/>
<circle cx="472.50" cy="76.20" r="1.7" fill="#fff" stroke="#333" stroke-width="0.55"/>
<circle cx="471.20" cy="77.50" r="1.7" fill="#fff" stroke="#333" stroke-width="0.55"/>
<circle cx="473.00" cy="79.30" r="1.7" fill="#fff" stroke="#333" stroke-width="0.55"/>
<rect x="481.00" y="74.70" width="6.80" height="19.40" fill="#4a92ea" stroke="#333" stroke-width="0.5"/>
<circle cx="484.40" cy="64.90" r="1.7" fill="#fff" stroke="#333" stroke-width="0.55"/>
<circle cx="485.20" cy="67.50" r="1.7" fill="#fff" stroke="#333" stroke-width="0.55"/>
<circle cx="483.10" cy="71.50" r="1.7" fill="#fff" stroke="#333" stroke-width="0.55"/>
<circle cx="486.30" cy="74.10" r="1.7" fill="#fff" stroke="#333" stroke-width="0.55"/>
<circle cx="484.40" cy="76.00" r="1.7" fill="#fff" stroke="#333" stroke-width="0.55"/>
<circle cx="485.70" cy="77.50" r="1.7" fill="#fff" stroke="#333" stroke-width="0.55"/>
<circle cx="483.10" cy="79.30" r="1.7" fill="#fff" stroke="#333" stroke-width="0.55"/>
<circle cx="485.20" cy="81.30" r="1.7" fill="#fff" stroke="#333" stroke-width="0.55"/>
<rect x="495.00" y="67.60" width="7.90" height="26.50" fill="#9c9c9c" stroke="#333" stroke-width="0.5"/>
<circle cx="498.10" cy="35.40" r="1.7" fill="#fff" stroke="#333" stroke-width="0.55"/>
<circle cx="498.10" cy="51.20" r="1.7" fill="#fff" stroke="#333" stroke-width="0.55"/>
<circle cx="498.10" cy="54.40" r="1.7" fill="#fff" stroke="#333" stroke-width="0.55"/>
<circle cx="500.30" cy="61.80" r="1.7" fill="#fff" stroke="#333" stroke-width="0.55"/>
<circle cx="497.60" cy="63.60" r="1.7" fill="#fff" stroke="#333" stroke-width="0.55"/>
<circle cx="499.50" cy="66.30" r="1.7" fill="#fff" stroke="#333" stroke-width="0.55"/>
<circle cx="496.30" cy="68.90" r="1.7" fill="#fff" stroke="#333" stroke-width="0.55"/>
<circle cx="501.00" cy="69.70" r="1.7" fill="#fff" stroke="#333" stroke-width="0.55"/>
<circle cx="497.60" cy="71.50" r="1.7" fill="#fff" stroke="#333" stroke-width="0.55"/>
<circle cx="500.30" cy="73.40" r="1.7" fill="#fff" stroke="#333" stroke-width="0.55"/>
<circle cx="498.40" cy="75.50" r="1.7" fill="#fff" stroke="#333" stroke-width="0.55"/>
<circle cx="496.30" cy="77.60" r="1.7" fill="#fff" stroke="#333" stroke-width="0.55"/>
<circle cx="500.30" cy="78.70" r="1.7" fill="#fff" stroke="#333" stroke-width="0.55"/>
<circle cx="498.90" cy="80.80" r="1.7" fill="#fff" stroke="#333" stroke-width="0.55"/>
<rect x="509.00" y="64.40" width="7.10" height="29.70" fill="#4848f2" stroke="#333" stroke-width="0.5"/>
<circle cx="512.10" cy="39.90" r="1.7" fill="#fff" stroke="#333" stroke-width="0.55"/>
<circle cx="511.60" cy="47.00" r="1.7" fill="#fff" stroke="#333" stroke-width="0.55"/>
<circle cx="513.50" cy="47.80" r="1.7" fill="#fff" stroke="#333" stroke-width="0.55"/>
<circle cx="512.10" cy="59.10" r="1.7" fill="#fff" stroke="#333" stroke-width="0.55"/>
<circle cx="510.80" cy="64.90" r="1.7" fill="#fff" stroke="#333" stroke-width="0.55"/>
<circle cx="513.50" cy="66.30" r="1.7" fill="#fff" stroke="#333" stroke-width="0.55"/>
<circle cx="511.60" cy="68.90" r="1.7" fill="#fff" stroke="#333" stroke-width="0.55"/>
<circle cx="512.70" cy="71.50" r="1.7" fill="#fff" stroke="#333" stroke-width="0.55"/>
<circle cx="510.80" cy="73.40" r="1.7" fill="#fff" stroke="#333" stroke-width="0.55"/>
<circle cx="513.50" cy="75.00" r="1.7" fill="#fff" stroke="#333" stroke-width="0.55"/>
<circle cx="512.10" cy="77.60" r="1.7" fill="#fff" stroke="#333" stroke-width="0.55"/>
<text x="484.30" y="5.50" font-size="6.4" text-anchor="middle" fill="#000" stroke="#000" stroke-width="0.12" >0.2804</text>
<polyline points="471.00,13.40 471.00,9.30 498.40,9.30 498.40,13.40" fill="none" stroke="#000" stroke-width="0.7"/>
<text x="477.50" y="21.50" font-size="6.4" text-anchor="middle" fill="#000" stroke="#000" stroke-width="0.12" >&gt;0.9999</text>
<polyline points="471.00,64.00 471.00,25.70 484.00,25.70 484.00,64.00" fill="none" stroke="#000" stroke-width="0.7"/>
<text x="504.50" y="21.50" font-size="6.4" text-anchor="middle" fill="#000" stroke="#000" stroke-width="0.12" >0.5887</text>
<polyline points="498.30,30.00 498.30,25.70 512.40,25.70 512.40,34.00" fill="none" stroke="#000" stroke-width="0.7"/>
<text x="473.60" y="102.20" font-size="6.8" text-anchor="end" fill="#000" stroke="#000" stroke-width="0.12" transform="rotate(-45 473.60 102.20)" >GC<tspan dy="-2.4" font-size="5.0" stroke-width="0.08">+/+</tspan><tspan dy="2.4"> + SC</tspan></text>
<text x="486.90" y="102.20" font-size="6.8" text-anchor="end" fill="#000" stroke="#000" stroke-width="0.12" transform="rotate(-45 486.90 102.20)" >GC<tspan dy="-2.4" font-size="5.0" stroke-width="0.08">-/-</tspan><tspan dy="2.4"> + SC</tspan></text>
<text x="501.50" y="102.20" font-size="6.8" text-anchor="end" fill="#000" stroke="#000" stroke-width="0.12" transform="rotate(-45 501.50 102.20)" >GC<tspan dy="-2.4" font-size="5.0" stroke-width="0.08">+/+</tspan><tspan dy="2.4"> + HFD</tspan></text>
<text x="515.00" y="102.20" font-size="6.8" text-anchor="end" fill="#000" stroke="#000" stroke-width="0.12" transform="rotate(-45 515.00 102.20)" >GC<tspan dy="-2.4" font-size="5.0" stroke-width="0.08">-/-</tspan><tspan dy="2.4"> + HFD</tspan></text>
<text x="0.00" y="148.30" font-size="15" text-anchor="start" fill="#000" font-weight="bold" >F</text>
<text x="11.10" y="195.50" font-size="7.4" text-anchor="middle" fill="#000" stroke="#000" stroke-width="0.12" transform="rotate(-90 11.10 195.50)" >% islet active at G0.5</text>
<line x1="26.40" y1="160.00" x2="26.40" y2="231.20" stroke="#000" stroke-width="0.8"/>
<line x1="23.40" y1="160.20" x2="26.40" y2="160.20" stroke="#000" stroke-width="0.8"/>
<text x="22.40" y="162.45" font-size="6.6" text-anchor="end" fill="#000" stroke="#000" stroke-width="0.12" >40</text>
<line x1="23.40" y1="178.00" x2="26.40" y2="178.00" stroke="#000" stroke-width="0.8"/>
<text x="22.40" y="180.25" font-size="6.6" text-anchor="end" fill="#000" stroke="#000" stroke-width="0.12" >30</text>
<line x1="23.40" y1="195.60" x2="26.40" y2="195.60" stroke="#000" stroke-width="0.8"/>
<text x="22.40" y="197.85" font-size="6.6" text-anchor="end" fill="#000" stroke="#000" stroke-width="0.12" >20</text>
<line x1="23.40" y1="213.40" x2="26.40" y2="213.40" stroke="#000" stroke-width="0.8"/>
<text x="22.40" y="215.65" font-size="6.6" text-anchor="end" fill="#000" stroke="#000" stroke-width="0.12" >10</text>
<line x1="23.40" y1="231.20" x2="26.40" y2="231.20" stroke="#000" stroke-width="0.8"/>
<text x="22.40" y="233.45" font-size="6.6" text-anchor="end" fill="#000" stroke="#000" stroke-width="0.12" >0</text>
<line x1="26.40" y1="231.20" x2="81.00" y2="231.20" stroke="#000" stroke-width="0.8"/>
<line x1="33.00" y1="231.20" x2="33.00" y2="233.20" stroke="#000" stroke-width="0.7"/>
<line x1="46.40" y1="231.20" x2="46.40" y2="233.20" stroke="#000" stroke-width="0.7"/>
<line x1="60.00" y1="231.20" x2="60.00" y2="233.20" stroke="#000" stroke-width="0.7"/>
<line x1="73.40" y1="231.20" x2="73.40" y2="233.20" stroke="#000" stroke-width="0.7"/>
<rect x="28.80" y="191.60" width="7.80" height="39.60" fill="#ffffff" stroke="#333" stroke-width="0.5"/>
<line x1="32.70" y1="186.50" x2="32.70" y2="191.60" stroke="#000" stroke-width="0.6"/>
<circle cx="32.60" cy="163.40" r="1.5" fill="#fff" stroke="#333" stroke-width="0.5"/>
<circle cx="32.60" cy="170.00" r="1.5" fill="#fff" stroke="#333" stroke-width="0.5"/>
<circle cx="30.60" cy="176.60" r="1.5" fill="#fff" stroke="#333" stroke-width="0.5"/>
<circle cx="34.60" cy="176.60" r="1.5" fill="#fff" stroke="#333" stroke-width="0.5"/>
<circle cx="32.60" cy="187.40" r="1.5" fill="#fff" stroke="#333" stroke-width="0.5"/>
<circle cx="31.00" cy="192.50" r="1.5" fill="#fff" stroke="#333" stroke-width="0.5"/>
<circle cx="34.20" cy="194.00" r="1.5" fill="#fff" stroke="#333" stroke-width="0.5"/>
<circle cx="32.60" cy="197.50" r="1.5" fill="#fff" stroke="#333" stroke-width="0.5"/>
<circle cx="31.40" cy="200.50" r="1.5" fill="#fff" stroke="#333" stroke-width="0.5"/>
<circle cx="33.80" cy="204.00" r="1.5" fill="#fff" stroke="#333" stroke-width="0.5"/>
<circle cx="32.60" cy="207.60" r="1.5" fill="#fff" stroke="#333" stroke-width="0.5"/>
<circle cx="31.20" cy="212.00" r="1.5" fill="#fff" stroke="#333" stroke-width="0.5"/>
<circle cx="33.40" cy="218.00" r="1.5" fill="#fff" stroke="#333" stroke-width="0.5"/>
<rect x="43.00" y="206.60" width="6.80" height="24.60" fill="#4a92ea" stroke="#333" stroke-width="0.5"/>
<line x1="46.40" y1="197.00" x2="46.40" y2="206.60" stroke="#000" stroke-width="0.6"/>
<circle cx="46.40" cy="197.00" r="1.5" fill="#fff" stroke="#333" stroke-width="0.5"/>
<circle cx="45.00" cy="200.00" r="1.5" fill="#fff" stroke="#333" stroke-width="0.5"/>
<circle cx="47.80" cy="203.00" r="1.5" fill="#fff" stroke="#333" stroke-width="0.5"/>
<circle cx="45.20" cy="206.50" r="1.5" fill="#fff" stroke="#333" stroke-width="0.5"/>
<circle cx="47.60" cy="210.50" r="1.5" fill="#fff" stroke="#333" stroke-width="0.5"/>
<circle cx="46.40" cy="213.60" r="1.5" fill="#fff" stroke="#333" stroke-width="0.5"/>
<circle cx="44.80" cy="216.50" r="1.5" fill="#fff" stroke="#333" stroke-width="0.5"/>
<circle cx="47.90" cy="216.80" r="1.5" fill="#fff" stroke="#333" stroke-width="0.5"/>
<rect x="56.40" y="206.00" width="7.20" height="25.20" fill="#9c9c9c" stroke="#333" stroke-width="0.5"/>
<circle cx="59.60" cy="185.00" r="1.5" fill="#fff" stroke="#333" stroke-width="0.5"/>
<circle cx="59.60" cy="195.50" r="1.5" fill="#fff" stroke="#333" stroke-width="0.5"/>
<circle cx="58.20" cy="198.50" r="1.5" fill="#fff" stroke="#333" stroke-width="0.5"/>
<circle cx="61.00" cy="200.80" r="1.5" fill="#fff" stroke="#333" stroke-width="0.5"/>
<circle cx="58.40" cy="203.20" r="1.5" fill="#fff" stroke="#333" stroke-width="0.5"/>
<circle cx="60.80" cy="205.50" r="1.5" fill="#fff" stroke="#333" stroke-width="0.5"/>
<circle cx="58.20" cy="208.00" r="1.5" fill="#fff" stroke="#333" stroke-width="0.5"/>
<circle cx="61.00" cy="210.50" r="1.5" fill="#fff" stroke="#333" stroke-width="0.5"/>
<circle cx="59.20" cy="213.00" r="1.5" fill="#fff" stroke="#333" stroke-width="0.5"/>
<circle cx="61.20" cy="215.60" r="1.5" fill="#fff" stroke="#333" stroke-width="0.5"/>
<circle cx="58.40" cy="218.00" r="1.5" fill="#fff" stroke="#333" stroke-width="0.5"/>
<circle cx="60.40" cy="220.50" r="1.5" fill="#fff" stroke="#333" stroke-width="0.5"/>
<circle cx="59.40" cy="223.00" r="1.5" fill="#fff" stroke="#333" stroke-width="0.5"/>
<rect x="69.60" y="204.00" width="7.20" height="27.20" fill="#4848f2" stroke="#333" stroke-width="0.5"/>
<circle cx="72.50" cy="169.40" r="1.5" fill="#fff" stroke="#333" stroke-width="0.5"/>
<circle cx="72.50" cy="178.40" r="1.5" fill="#fff" stroke="#333" stroke-width="0.5"/>
<circle cx="72.50" cy="188.00" r="1.5" fill="#fff" stroke="#333" stroke-width="0.5"/>
<circle cx="71.20" cy="191.00" r="1.5" fill="#fff" stroke="#333" stroke-width="0.5"/>
<circle cx="73.60" cy="195.50" r="1.5" fill="#fff" stroke="#333" stroke-width="0.5"/>
<circle cx="72.00" cy="199.00" r="1.5" fill="#fff" stroke="#333" stroke-width="0.5"/>
<circle cx="73.60" cy="202.50" r="1.5" fill="#fff" stroke="#333" stroke-width="0.5"/>
<circle cx="71.20" cy="206.00" r="1.5" fill="#fff" stroke="#333" stroke-width="0.5"/>
<circle cx="73.80" cy="209.50" r="1.5" fill="#fff" stroke="#333" stroke-width="0.5"/>
<circle cx="72.00" cy="213.00" r="1.5" fill="#fff" stroke="#333" stroke-width="0.5"/>
<circle cx="73.80" cy="216.50" r="1.5" fill="#fff" stroke="#333" stroke-width="0.5"/>
<circle cx="71.80" cy="219.50" r="1.5" fill="#fff" stroke="#333" stroke-width="0.5"/>
<circle cx="73.00" cy="222.50" r="1.5" fill="#fff" stroke="#333" stroke-width="0.5"/>
<text x="46.40" y="134.30" font-size="6.4" text-anchor="middle" fill="#000" stroke="#000" stroke-width="0.12" >0.0080</text>
<polyline points="33.00,142.40 33.00,137.20 59.50,137.20 59.50,142.40" fill="none" stroke="#000" stroke-width="0.7"/>
<text x="39.60" y="151.60" font-size="6.4" text-anchor="middle" fill="#000" stroke="#000" stroke-width="0.12" >0.0218</text>
<polyline points="33.00,161.70 33.00,154.80 46.40,154.80 46.40,191.00" fill="none" stroke="#000" stroke-width="0.7"/>
<text x="66.80" y="151.40" font-size="6.4" text-anchor="middle" fill="#000" stroke="#000" stroke-width="0.12" >&gt;0.9999</text>
<polyline points="59.50,182.40 59.50,154.80 73.00,154.80 73.00,165.30" fill="none" stroke="#000" stroke-width="0.7"/>
<text x="55.20" y="187.50" font-size="6.5" text-anchor="middle" fill="#9050d0" stroke="#9050d0" stroke-width="0.12" transform="rotate(-90 55.20 187.50)" >Fura2</text>
<text x="35.60" y="241.20" font-size="6.5" text-anchor="end" fill="#000" stroke="#000" stroke-width="0.12" transform="rotate(-45 35.60 241.20)" >GC<tspan dy="-2.4" font-size="5.0" stroke-width="0.08">+/+</tspan><tspan dy="2.4"> + SC</tspan></text>
<text x="49.00" y="241.20" font-size="6.5" text-anchor="end" fill="#000" stroke="#000" stroke-width="0.12" transform="rotate(-45 49.00 241.20)" >GC<tspan dy="-2.4" font-size="5.0" stroke-width="0.08">-/-</tspan><tspan dy="2.4"> + SC</tspan></text>
<text x="62.60" y="241.20" font-size="6.5" text-anchor="end" fill="#000" stroke="#000" stroke-width="0.12" transform="rotate(-45 62.60 241.20)" >GC<tspan dy="-2.4" font-size="5.0" stroke-width="0.08">+/+</tspan><tspan dy="2.4"> + HFD</tspan></text>
<text x="76.00" y="241.20" font-size="6.5" text-anchor="end" fill="#000" stroke="#000" stroke-width="0.12" transform="rotate(-45 76.00 241.20)" >GC<tspan dy="-2.4" font-size="5.0" stroke-width="0.08">-/-</tspan><tspan dy="2.4"> + HFD</tspan></text>
<text x="89.50" y="148.30" font-size="15" text-anchor="start" fill="#000" font-weight="bold" >G</text>
<text x="100.4" y="195.8" font-size="7.3" text-anchor="middle" transform="rotate(-90 100.4 195.8)">Ca<tspan dy="-2.6" font-size="5">2+</tspan><tspan dy="2.6"> amplitude Δ340/385</tspan></text>
<line x1="117.10" y1="160.00" x2="117.10" y2="230.60" stroke="#000" stroke-width="0.8"/>
<line x1="114.10" y1="160.80" x2="117.10" y2="160.80" stroke="#000" stroke-width="0.8"/>
<text x="113.10" y="163.05" font-size="6.6" text-anchor="end" fill="#000" stroke="#000" stroke-width="0.12" >2.0</text>
<line x1="114.10" y1="176.70" x2="117.10" y2="176.70" stroke="#000" stroke-width="0.8"/>
<text x="113.10" y="178.95" font-size="6.6" text-anchor="end" fill="#000" stroke="#000" stroke-width="0.12" >1.5</text>
<line x1="114.10" y1="192.60" x2="117.10" y2="192.60" stroke="#000" stroke-width="0.8"/>
<text x="113.10" y="194.85" font-size="6.6" text-anchor="end" fill="#000" stroke="#000" stroke-width="0.12" >1.0</text>
<line x1="114.10" y1="208.50" x2="117.10" y2="208.50" stroke="#000" stroke-width="0.8"/>
<text x="113.10" y="210.75" font-size="6.6" text-anchor="end" fill="#000" stroke="#000" stroke-width="0.12" >0.5</text>
<line x1="114.10" y1="224.40" x2="117.10" y2="224.40" stroke="#000" stroke-width="0.8"/>
<text x="113.10" y="226.65" font-size="6.6" text-anchor="end" fill="#000" stroke="#000" stroke-width="0.12" >0.0</text>
<line x1="117.10" y1="230.60" x2="170.70" y2="230.60" stroke="#000" stroke-width="0.8"/>
<line x1="123.40" y1="230.60" x2="123.40" y2="233.70" stroke="#000" stroke-width="0.7"/>
<line x1="136.00" y1="230.60" x2="136.00" y2="233.70" stroke="#000" stroke-width="0.7"/>
<line x1="148.70" y1="230.60" x2="148.70" y2="233.70" stroke="#000" stroke-width="0.7"/>
<line x1="163.00" y1="230.60" x2="163.00" y2="233.70" stroke="#000" stroke-width="0.7"/>
<path d="M123.45,186.30 L123.45,186.77 L123.45,187.25 L123.45,187.72 L123.45,188.20 L123.45,188.67 L123.45,189.14 L123.45,189.62 L123.45,190.09 L123.45,190.56 L123.46,191.04 L123.47,191.51 L123.48,191.99 L123.50,192.46 L123.52,192.93 L123.55,193.41 L123.58,193.88 L123.62,194.35 L123.66,194.83 L123.71,195.30 L123.76,195.78 L123.82,196.25 L123.89,196.72 L123.97,197.20 L124.06,197.67 L124.15,198.14 L124.26,198.62 L124.37,199.09 L124.49,199.56 L124.63,200.04 L124.76,200.51 L124.91,200.99 L125.07,201.46 L125.22,201.93 L125.39,202.41 L125.55,202.88 L125.72,203.35 L125.89,203.83 L126.05,204.30 L126.21,204.78 L126.36,205.25 L126.50,205.72 L126.63,206.20 L126.75,206.67 L126.86,207.15 L126.94,207.62 L127.01,208.09 L127.06,208.57 L127.09,209.04 L127.10,209.51 L127.08,209.99 L127.02,210.46 L126.92,210.94 L126.79,211.41 L126.63,211.88 L126.45,212.36 L126.25,212.83 L126.03,213.30 L125.80,213.78 L125.57,214.25 L125.34,214.72 L125.12,215.20 L124.90,215.67 L124.70,216.15 L124.51,216.62 L124.35,217.09 L124.19,217.57 L124.06,218.04 L123.94,218.51 L123.84,218.99 L123.75,219.46 L123.68,219.94 L123.62,220.41 L123.57,220.88 L123.53,221.36 L123.50,221.83 L123.48,222.31 L123.46,222.78 L123.45,223.25 L123.45,223.73 L123.45,224.20 L123.35,224.20 L123.35,223.73 L123.35,223.25 L123.34,222.78 L123.32,222.31 L123.30,221.83 L123.27,221.36 L123.23,220.88 L123.18,220.41 L123.12,219.94 L123.05,219.46 L122.96,218.99 L122.86,218.51 L122.74,218.04 L122.61,217.57 L122.45,217.09 L122.29,216.62 L122.10,216.15 L121.90,215.67 L121.68,215.20 L121.46,214.72 L121.23,214.25 L121.00,213.78 L120.77,213.30 L120.55,212.83 L120.35,212.36 L120.17,211.88 L120.01,211.41 L119.88,210.94 L119.78,210.46 L119.72,209.99 L119.70,209.51 L119.71,209.04 L119.74,208.57 L119.79,208.09 L119.86,207.62 L119.94,207.15 L120.05,206.67 L120.17,206.20 L120.30,205.72 L120.44,205.25 L120.59,204.78 L120.75,204.30 L120.91,203.83 L121.08,203.35 L121.25,202.88 L121.41,202.41 L121.58,201.93 L121.73,201.46 L121.89,200.99 L122.04,200.51 L122.17,200.04 L122.31,199.56 L122.43,199.09 L122.54,198.62 L122.65,198.14 L122.74,197.67 L122.83,197.20 L122.91,196.72 L122.98,196.25 L123.04,195.78 L123.09,195.30 L123.14,194.83 L123.18,194.35 L123.22,193.88 L123.25,193.41 L123.28,192.93 L123.30,192.46 L123.32,191.99 L123.33,191.51 L123.34,191.04 L123.35,190.56 L123.35,190.09 L123.35,189.62 L123.35,189.14 L123.35,188.67 L123.35,188.20 L123.35,187.72 L123.35,187.25 L123.35,186.77 L123.35,186.30Z" fill="#ffffff" stroke="#666" stroke-width="0.45"/>
<line x1="120.70" y1="206" x2="126.10" y2="206" stroke="#444" stroke-width="0.4" stroke-dasharray="0.8,0.6"/>
<line x1="120.27" y1="210" x2="126.53" y2="210" stroke="#444" stroke-width="0.4" stroke-dasharray="0.8,0.6"/>
<line x1="121.45" y1="214" x2="125.35" y2="214" stroke="#444" stroke-width="0.4" stroke-dasharray="0.8,0.6"/>
<path d="M136.05,201.00 L136.05,201.28 L136.05,201.56 L136.05,201.83 L136.05,202.11 L136.05,202.39 L136.05,202.66 L136.06,202.94 L136.08,203.22 L136.09,203.50 L136.11,203.78 L136.13,204.05 L136.16,204.33 L136.19,204.61 L136.22,204.88 L136.26,205.16 L136.30,205.44 L136.35,205.72 L136.41,206.00 L136.47,206.27 L136.54,206.55 L136.61,206.83 L136.69,207.10 L136.78,207.38 L136.87,207.66 L136.97,207.94 L137.07,208.22 L137.18,208.49 L137.30,208.77 L137.42,209.05 L137.54,209.32 L137.66,209.60 L137.79,209.88 L137.92,210.16 L138.04,210.44 L138.16,210.71 L138.27,210.99 L138.38,211.27 L138.49,211.54 L138.58,211.82 L138.66,212.10 L138.74,212.38 L138.80,212.66 L138.84,212.93 L138.88,213.21 L138.90,213.49 L138.90,213.76 L138.88,214.04 L138.83,214.32 L138.76,214.60 L138.66,214.88 L138.54,215.15 L138.41,215.43 L138.25,215.71 L138.09,215.98 L137.92,216.26 L137.75,216.54 L137.58,216.82 L137.41,217.09 L137.25,217.37 L137.09,217.65 L136.95,217.93 L136.82,218.20 L136.69,218.48 L136.59,218.76 L136.49,219.04 L136.40,219.31 L136.33,219.59 L136.27,219.87 L136.22,220.15 L136.17,220.42 L136.14,220.70 L136.11,220.98 L136.08,221.26 L136.06,221.53 L136.05,221.81 L136.05,222.09 L136.05,222.37 L136.05,222.64 L136.05,222.92 L136.05,223.20 L135.95,223.20 L135.95,222.92 L135.95,222.64 L135.95,222.37 L135.95,222.09 L135.95,221.81 L135.94,221.53 L135.92,221.26 L135.89,220.98 L135.86,220.70 L135.83,220.42 L135.78,220.15 L135.73,219.87 L135.67,219.59 L135.60,219.31 L135.51,219.04 L135.41,218.76 L135.31,218.48 L135.18,218.20 L135.05,217.93 L134.91,217.65 L134.75,217.37 L134.59,217.09 L134.42,216.82 L134.25,216.54 L134.08,216.26 L133.91,215.98 L133.75,215.71 L133.59,215.43 L133.46,215.15 L133.34,214.88 L133.24,214.60 L133.17,214.32 L133.12,214.04 L133.10,213.76 L133.10,213.49 L133.12,213.21 L133.16,212.93 L133.20,212.66 L133.26,212.38 L133.34,212.10 L133.42,211.82 L133.51,211.54 L133.62,211.27 L133.73,210.99 L133.84,210.71 L133.96,210.44 L134.08,210.16 L134.21,209.88 L134.34,209.60 L134.46,209.32 L134.58,209.05 L134.70,208.77 L134.82,208.49 L134.93,208.22 L135.03,207.94 L135.13,207.66 L135.22,207.38 L135.31,207.10 L135.39,206.83 L135.46,206.55 L135.53,206.27 L135.59,206.00 L135.65,205.72 L135.70,205.44 L135.74,205.16 L135.78,204.88 L135.81,204.61 L135.84,204.33 L135.87,204.05 L135.89,203.78 L135.91,203.50 L135.92,203.22 L135.94,202.94 L135.95,202.66 L135.95,202.39 L135.95,202.11 L135.95,201.83 L135.95,201.56 L135.95,201.28 L135.95,201.00Z" fill="#4a92ea" stroke="#3a6fc0" stroke-width="0.45"/>
<line x1="134.06" y1="211" x2="137.94" y2="211" stroke="#1a3a80" stroke-width="0.4" stroke-dasharray="0.8,0.6"/>
<line x1="133.55" y1="214" x2="138.45" y2="214" stroke="#1a3a80" stroke-width="0.4" stroke-dasharray="0.8,0.6"/>
<line x1="134.75" y1="217" x2="137.25" y2="217" stroke="#1a3a80" stroke-width="0.4" stroke-dasharray="0.8,0.6"/>
<path d="M148.75,179.20 L148.75,179.76 L148.75,180.32 L148.75,180.89 L148.75,181.45 L148.75,182.01 L148.75,182.57 L148.75,183.14 L148.75,183.70 L148.75,184.26 L148.75,184.82 L148.75,185.39 L148.75,185.95 L148.75,186.51 L148.75,187.07 L148.75,187.64 L148.75,188.20 L148.75,188.76 L148.75,189.32 L148.75,189.89 L148.75,190.45 L148.75,191.01 L148.75,191.57 L148.75,192.14 L148.75,192.70 L148.75,193.26 L148.75,193.82 L148.75,194.39 L148.75,194.95 L148.75,195.51 L148.75,196.07 L148.75,196.64 L148.75,197.20 L148.75,197.76 L148.75,198.32 L148.75,198.89 L148.75,199.45 L148.75,200.01 L148.75,200.57 L148.75,201.14 L148.75,201.70 L148.75,202.26 L148.75,202.82 L148.75,203.39 L148.77,203.95 L148.80,204.51 L148.84,205.07 L148.89,205.64 L148.95,206.20 L149.03,206.76 L149.12,207.32 L149.24,207.89 L149.37,208.45 L149.52,209.01 L149.70,209.57 L149.89,210.14 L150.10,210.70 L150.32,211.26 L150.55,211.82 L150.78,212.39 L151.00,212.95 L151.21,213.51 L151.40,214.07 L151.56,214.64 L151.68,215.20 L151.76,215.76 L151.80,216.32 L151.76,216.89 L151.59,217.45 L151.30,218.01 L150.92,218.57 L150.51,219.14 L150.11,219.70 L149.74,220.26 L149.43,220.82 L149.19,221.39 L149.01,221.95 L148.89,222.51 L148.81,223.07 L148.76,223.64 L148.75,224.20 L148.65,224.20 L148.64,223.64 L148.59,223.07 L148.51,222.51 L148.39,221.95 L148.21,221.39 L147.97,220.82 L147.66,220.26 L147.29,219.70 L146.89,219.14 L146.48,218.57 L146.10,218.01 L145.81,217.45 L145.64,216.89 L145.60,216.32 L145.64,215.76 L145.72,215.20 L145.84,214.64 L146.00,214.07 L146.19,213.51 L146.40,212.95 L146.62,212.39 L146.85,211.82 L147.08,211.26 L147.30,210.70 L147.51,210.14 L147.70,209.57 L147.88,209.01 L148.03,208.45 L148.16,207.89 L148.28,207.32 L148.37,206.76 L148.45,206.20 L148.51,205.64 L148.56,205.07 L148.60,204.51 L148.63,203.95 L148.65,203.39 L148.65,202.82 L148.65,202.26 L148.65,201.70 L148.65,201.14 L148.65,200.57 L148.65,200.01 L148.65,199.45 L148.65,198.89 L148.65,198.32 L148.65,197.76 L148.65,197.20 L148.65,196.64 L148.65,196.07 L148.65,195.51 L148.65,194.95 L148.65,194.39 L148.65,193.82 L148.65,193.26 L148.65,192.70 L148.65,192.14 L148.65,191.57 L148.65,191.01 L148.65,190.45 L148.65,189.89 L148.65,189.32 L148.65,188.76 L148.65,188.20 L148.65,187.64 L148.65,187.07 L148.65,186.51 L148.65,185.95 L148.65,185.39 L148.65,184.82 L148.65,184.26 L148.65,183.70 L148.65,183.14 L148.65,182.57 L148.65,182.01 L148.65,181.45 L148.65,180.89 L148.65,180.32 L148.65,179.76 L148.65,179.20Z" fill="#a0a0a0" stroke="#666" stroke-width="0.45"/>
<line x1="146.57" y1="213.5" x2="150.83" y2="213.5" stroke="#333" stroke-width="0.4" stroke-dasharray="0.8,0.6"/>
<line x1="146.06" y1="216.5" x2="151.33" y2="216.5" stroke="#333" stroke-width="0.4" stroke-dasharray="0.8,0.6"/>
<line x1="147.38" y1="219.5" x2="150.02" y2="219.5" stroke="#333" stroke-width="0.4" stroke-dasharray="0.8,0.6"/>
<path d="M163.05,194.70 L163.05,195.07 L163.05,195.44 L163.05,195.81 L163.05,196.17 L163.05,196.54 L163.05,196.91 L163.05,197.28 L163.05,197.65 L163.05,198.02 L163.05,198.39 L163.05,198.76 L163.05,199.12 L163.05,199.49 L163.05,199.86 L163.05,200.23 L163.05,200.60 L163.05,200.97 L163.05,201.34 L163.05,201.71 L163.05,202.07 L163.05,202.44 L163.05,202.81 L163.05,203.18 L163.05,203.55 L163.05,203.92 L163.05,204.29 L163.05,204.66 L163.05,205.02 L163.05,205.39 L163.05,205.76 L163.05,206.13 L163.05,206.50 L163.05,206.87 L163.05,207.24 L163.05,207.61 L163.05,207.97 L163.05,208.34 L163.05,208.71 L163.05,209.08 L163.06,209.45 L163.08,209.82 L163.11,210.19 L163.14,210.56 L163.18,210.92 L163.24,211.29 L163.30,211.66 L163.38,212.03 L163.47,212.40 L163.57,212.77 L163.70,213.14 L163.84,213.51 L163.99,213.88 L164.16,214.24 L164.34,214.61 L164.54,214.98 L164.74,215.35 L164.94,215.72 L165.15,216.09 L165.34,216.46 L165.52,216.82 L165.69,217.19 L165.83,217.56 L165.95,217.93 L166.03,218.30 L166.09,218.67 L166.10,219.04 L166.04,219.41 L165.90,219.77 L165.68,220.14 L165.40,220.51 L165.09,220.88 L164.77,221.25 L164.45,221.62 L164.15,221.99 L163.89,222.36 L163.66,222.72 L163.48,223.09 L163.34,223.46 L163.23,223.83 L163.15,224.20 L162.85,224.20 L162.77,223.83 L162.66,223.46 L162.52,223.09 L162.34,222.72 L162.11,222.36 L161.85,221.99 L161.55,221.62 L161.23,221.25 L160.91,220.88 L160.60,220.51 L160.32,220.14 L160.10,219.77 L159.96,219.41 L159.90,219.04 L159.91,218.67 L159.97,218.30 L160.05,217.93 L160.17,217.56 L160.31,217.19 L160.48,216.82 L160.66,216.46 L160.85,216.09 L161.06,215.72 L161.26,215.35 L161.46,214.98 L161.66,214.61 L161.84,214.24 L162.01,213.88 L162.16,213.51 L162.30,213.14 L162.43,212.77 L162.53,212.40 L162.62,212.03 L162.70,211.66 L162.76,211.29 L162.82,210.92 L162.86,210.56 L162.89,210.19 L162.92,209.82 L162.94,209.45 L162.95,209.08 L162.95,208.71 L162.95,208.34 L162.95,207.97 L162.95,207.61 L162.95,207.24 L162.95,206.87 L162.95,206.50 L162.95,206.13 L162.95,205.76 L162.95,205.39 L162.95,205.02 L162.95,204.66 L162.95,204.29 L162.95,203.92 L162.95,203.55 L162.95,203.18 L162.95,202.81 L162.95,202.44 L162.95,202.07 L162.95,201.71 L162.95,201.34 L162.95,200.97 L162.95,200.60 L162.95,200.23 L162.95,199.86 L162.95,199.49 L162.95,199.12 L162.95,198.76 L162.95,198.39 L162.95,198.02 L162.95,197.65 L162.95,197.28 L162.95,196.91 L162.95,196.54 L162.95,196.17 L162.95,195.81 L162.95,195.44 L162.95,195.07 L162.95,194.70Z" fill="#4848f2" stroke="#2a2ab0" stroke-width="0.45"/>
<line x1="160.78" y1="217" x2="165.22" y2="217" stroke="#101060" stroke-width="0.4" stroke-dasharray="0.8,0.6"/>
<line x1="160.37" y1="219" x2="165.63" y2="219" stroke="#101060" stroke-width="0.4" stroke-dasharray="0.8,0.6"/>
<line x1="161.31" y1="221" x2="164.69" y2="221" stroke="#101060" stroke-width="0.4" stroke-dasharray="0.8,0.6"/>
<text x="137.00" y="146.00" font-size="6.4" text-anchor="middle" fill="#000" stroke="#000" stroke-width="0.12" >&lt;0.0001</text>
<polyline points="123.40,154.80 123.40,150.70 147.90,150.70 147.90,154.80" fill="none" stroke="#000" stroke-width="0.7"/>
<text x="130.80" y="163.20" font-size="6.4" text-anchor="middle" fill="#000" stroke="#000" stroke-width="0.12" >&lt;0.0001</text>
<polyline points="123.40,186.00 123.40,167.00 136.40,167.00 136.40,182.50" fill="none" stroke="#000" stroke-width="0.7"/>
<text x="157.40" y="163.20" font-size="6.4" text-anchor="middle" fill="#000" stroke="#000" stroke-width="0.12" >&lt;0.0001</text>
<polyline points="151.60,176.30 151.60,167.00 163.30,167.00 163.30,183.70" fill="none" stroke="#000" stroke-width="0.7"/>
<text x="145.80" y="174.60" font-size="6.4" text-anchor="middle" fill="#000" stroke="#000" stroke-width="0.12" transform="rotate(-90 145.80 174.60)" >G0.5</text>
<text x="144.60" y="196.80" font-size="6.6" text-anchor="middle" fill="#9050d0" stroke="#9050d0" stroke-width="0.12" transform="rotate(-90 144.60 196.80)" >Fura2</text>
<text x="126.10" y="240.70" font-size="6.4" text-anchor="end" fill="#000" stroke="#000" stroke-width="0.12" transform="rotate(-45 126.10 240.70)" >GC<tspan dy="-2.4" font-size="5.0" stroke-width="0.08">+/+</tspan><tspan dy="2.4"> + SC</tspan></text>
<text x="139.10" y="240.70" font-size="6.4" text-anchor="end" fill="#000" stroke="#000" stroke-width="0.12" transform="rotate(-45 139.10 240.70)" >GC<tspan dy="-2.4" font-size="5.0" stroke-width="0.08">-/-</tspan><tspan dy="2.4"> + SC</tspan></text>
<text x="152.40" y="240.70" font-size="6.4" text-anchor="end" fill="#000" stroke="#000" stroke-width="0.12" transform="rotate(-45 152.40 240.70)" >GC<tspan dy="-2.4" font-size="5.0" stroke-width="0.08">+/+</tspan><tspan dy="2.4"> + HFD</tspan></text>
<text x="165.50" y="240.70" font-size="6.4" text-anchor="end" fill="#000" stroke="#000" stroke-width="0.12" transform="rotate(-45 165.50 240.70)" >GC<tspan dy="-2.4" font-size="5.0" stroke-width="0.08">-/-</tspan><tspan dy="2.4"> + HFD</tspan></text>
<text x="173.20" y="148.20" font-size="15" text-anchor="start" fill="#000" font-weight="bold" >H</text>
<line x1="191.60" y1="148.60" x2="244.00" y2="148.60" stroke="#555" stroke-width="0.9"/>
<line x1="243.80" y1="148.50" x2="300.00" y2="148.50" stroke="#000" stroke-width="1.5"/>
<text x="211.70" y="147.40" font-size="5.6" text-anchor="middle" fill="#000" stroke="#000" stroke-width="0.12" >G0.5</text>
<text x="268.10" y="144.80" font-size="5.6" text-anchor="middle" fill="#000" stroke="#000" stroke-width="0.12" >Epi</text>
<path d="M193.00,176.15 L193.53,176.12 L194.05,175.23 L194.57,174.73 L195.10,173.68 L195.62,173.31 L196.15,172.88 L196.68,170.74 L197.20,172.30 L197.73,171.90 L198.25,171.60 L198.78,170.94 L199.30,170.55 L199.84,169.76 L200.38,170.55 L200.92,171.09 L201.46,169.63 L202.00,170.15 L202.58,170.39 L203.16,169.47 L203.74,169.34 L204.32,169.95 L204.90,168.84 L205.41,168.03 L205.93,168.13 L206.44,166.91 L206.95,166.02 L207.46,166.33 L207.97,165.84 L208.49,164.77 L209.00,164.68 L209.50,165.89 L210.00,165.31 L210.50,165.78 L211.00,166.10 L211.50,166.71 L212.00,166.11 L212.50,165.19 L213.00,165.81 L213.51,164.13 L214.02,163.87 L214.53,163.54 L215.04,164.05 L215.56,163.75 L216.07,163.09 L216.58,164.15 L217.09,163.68 L217.60,162.86 L218.23,163.87 L218.87,162.25 L219.50,162.16 L220.03,163.46 L220.56,164.81 L221.09,165.34 L221.61,165.77 L222.14,165.75 L222.67,167.12 L223.20,166.70 L223.72,166.98 L224.25,167.62 L224.78,166.56 L225.30,167.88 L225.82,168.40 L226.35,167.78 L226.88,168.86 L227.40,169.30 L227.91,169.39 L228.42,168.74 L228.93,169.78 L229.44,169.46 L229.95,168.97 L230.45,169.00 L230.96,169.41 L231.47,168.90 L231.98,169.98 L232.49,170.17 L233.00,170.40 L233.52,170.86 L234.04,168.69 L234.55,169.34 L235.07,170.03 L235.59,169.73 L236.11,167.61 L236.63,167.52 L237.15,167.40 L237.66,167.15 L238.18,166.90 L238.70,166.25 L239.24,166.68 L239.77,166.51 L240.31,165.27 L240.85,165.43 L241.39,165.77 L241.93,165.05 L242.46,164.47 L243.00,163.70 L243.50,164.34 L244.00,165.19 L244.50,165.55 L245.00,165.60 L245.50,165.45 L246.00,166.34 L246.50,167.27 L247.00,167.69 L247.50,167.18 L248.00,168.15 L248.50,167.12 L249.00,166.89 L249.50,166.10 L250.00,165.21 L250.50,164.90 L251.00,162.40 L251.50,158.84 L252.00,155.26 L252.50,158.82 L253.00,162.60 L253.50,163.17 L254.06,165.06 L254.62,165.21 L255.18,166.48 L255.74,168.30 L256.30,168.95 L256.82,168.84 L257.34,169.69 L257.85,170.38 L258.37,170.83 L258.89,170.13 L259.41,169.82 L259.93,169.91 L260.45,170.13 L260.96,170.60 L261.48,170.24 L262.00,170.25 L262.50,170.39 L263.00,170.63 L263.50,170.86 L264.00,169.49 L264.50,169.73 L265.00,170.36 L265.50,170.42 L266.00,171.21 L266.50,170.22 L267.00,170.45 L267.50,169.93 L268.02,170.95 L268.54,170.33 L269.05,170.16 L269.57,168.68 L270.09,169.93 L270.61,169.00 L271.13,167.71 L271.65,168.19 L272.16,169.06 L272.68,168.46 L273.20,168.29 L273.71,169.81 L274.22,168.93 L274.73,169.10 L275.24,169.60 L275.75,168.22 L276.25,167.82 L276.76,169.64 L277.27,168.57 L277.78,169.22 L278.29,170.57 L278.80,169.39 L279.31,168.66 L279.82,169.97 L280.33,169.72 L280.84,168.68 L281.35,167.60 L281.85,169.10 L282.36,167.81 L282.87,166.81 L283.38,165.67 L283.89,165.74 L284.40,165.94 L284.91,165.66 L285.42,166.78 L285.93,167.34 L286.44,166.17 L286.95,165.38 L287.45,165.97 L287.96,166.63 L288.47,165.79 L288.98,166.23 L289.49,166.31 L290.00,165.58 L290.54,164.77 L291.07,164.61 L291.61,163.31 L292.15,163.21 L292.69,162.94 L293.23,161.90 L293.76,161.74 L294.30,161.88 L294.84,162.11 L295.38,162.14 L295.92,162.75 L296.46,164.31 L297.00,164.52 L297.50,165.57 L298.00,165.83 L298.50,165.32 L299.00,165.21 L299.50,164.95 L300.00,165.50" fill="none" stroke="#8a8a8a" stroke-width="0.95" stroke-linejoin="round"/>
<path d="M193.00,187.20 L193.53,186.59 L194.05,185.87 L194.57,186.78 L195.10,186.81 L195.62,186.73 L196.15,186.28 L196.68,186.09 L197.20,184.86 L197.73,184.69 L198.25,184.62 L198.78,184.21 L199.30,184.87 L199.83,184.45 L200.36,183.46 L200.89,182.91 L201.41,183.58 L201.94,182.42 L202.47,182.05 L203.00,182.52 L203.50,182.81 L204.00,182.51 L204.50,182.51 L205.00,182.91 L205.50,181.43 L206.00,180.96 L206.50,181.95 L207.00,182.85 L207.50,183.02 L208.00,184.03 L208.50,183.94 L209.00,183.97 L209.50,184.55 L210.00,184.03 L210.52,185.86 L211.03,185.01 L211.55,185.16 L212.07,184.21 L212.58,183.95 L213.10,183.43 L213.62,183.68 L214.13,182.77 L214.65,183.00 L215.17,182.73 L215.68,183.41 L216.20,182.62 L216.73,184.04 L217.25,184.53 L217.78,183.70 L218.31,183.74 L218.84,183.01 L219.36,183.01 L219.89,183.84 L220.42,183.98 L220.95,184.42 L221.47,184.73 L222.00,184.90 L222.50,184.53 L223.00,184.71 L223.50,184.15 L224.00,183.34 L224.50,182.97 L225.00,182.29 L225.50,183.01 L226.00,181.30 L226.50,182.71 L227.00,181.56 L227.50,181.74 L228.00,181.43 L228.53,181.14 L229.06,180.48 L229.59,179.49 L230.11,179.88 L230.64,179.23 L231.17,179.96 L231.70,179.00 L232.25,179.80 L232.80,179.65 L233.35,180.35 L233.90,181.14 L234.45,180.96 L235.00,181.84 L235.50,181.23 L236.00,180.73 L236.50,181.92 L237.00,181.09 L237.50,181.30 L238.00,182.05 L238.50,181.36 L239.00,181.69 L239.50,181.08 L240.00,180.92 L240.50,182.25 L241.00,182.19 L241.50,182.53 L242.00,182.34 L242.50,181.70 L243.00,181.97 L243.50,182.94 L244.00,182.95 L244.50,182.52 L245.00,182.91 L245.50,182.81 L246.00,183.08 L246.50,183.02 L247.00,183.47 L247.50,183.20 L248.00,181.48 L248.52,180.65 L249.04,178.73 L249.56,179.10 L250.08,176.84 L250.60,176.16 L251.14,175.19 L251.68,176.70 L252.21,176.41 L252.75,176.77 L253.29,175.62 L253.82,176.78 L254.36,177.19 L254.90,176.51 L255.41,176.53 L255.93,177.09 L256.44,177.44 L256.95,178.13 L257.46,178.97 L257.98,178.89 L258.49,178.75 L259.00,177.82 L259.50,178.60 L260.00,179.02 L260.50,178.07 L261.00,178.84 L261.50,178.71 L262.00,177.97 L262.50,178.01 L263.00,178.42 L263.50,177.71 L264.00,177.67 L264.53,177.45 L265.07,176.95 L265.60,178.10 L266.13,177.84 L266.67,177.99 L267.20,178.50 L267.73,179.55 L268.27,180.26 L268.80,178.45 L269.33,178.87 L269.87,178.96 L270.40,180.41 L270.92,180.27 L271.45,180.12 L271.97,180.51 L272.50,180.37 L273.02,181.41 L273.55,182.28 L274.07,180.35 L274.60,181.34 L275.12,181.28 L275.65,180.80 L276.18,181.00 L276.70,180.11 L277.23,181.62 L277.75,180.39 L278.28,181.13 L278.80,181.57 L279.31,180.48 L279.83,180.96 L280.34,180.79 L280.86,181.14 L281.37,181.17 L281.89,180.85 L282.40,180.07 L282.91,180.03 L283.43,180.01 L283.94,180.08 L284.46,181.25 L284.97,180.90 L285.49,180.67 L286.00,180.85 L286.53,181.19 L287.06,180.70 L287.59,178.92 L288.12,180.46 L288.65,179.59 L289.18,178.81 L289.72,179.26 L290.25,178.93 L290.78,179.57 L291.31,179.66 L291.84,180.91 L292.37,179.28 L292.90,178.65 L293.41,178.21 L293.91,178.11 L294.42,177.96 L294.93,177.01 L295.44,177.86 L295.94,178.53 L296.45,176.26 L296.96,177.18 L297.46,177.79 L297.97,178.22 L298.48,177.17 L298.99,178.49 L299.49,177.59 L300.00,176.80" fill="none" stroke="#3a8cf0" stroke-width="1.0" stroke-linejoin="round"/>
<path d="M193.00,200.95 L193.53,200.52 L194.05,200.99 L194.57,201.02 L195.10,200.81 L195.62,200.34 L196.15,200.58 L196.68,201.58 L197.20,199.91 L197.73,200.20 L198.25,200.59 L198.78,198.64 L199.30,199.49 L199.81,198.07 L200.32,197.86 L200.83,197.41 L201.34,197.74 L201.85,197.10 L202.35,197.11 L202.86,197.10 L203.37,196.53 L203.88,195.31 L204.39,195.87 L204.90,195.02 L205.41,196.02 L205.92,196.08 L206.43,194.90 L206.94,195.14 L207.45,194.89 L207.95,194.09 L208.46,194.50 L208.97,194.24 L209.48,193.89 L209.99,194.59 L210.50,193.81 L211.02,195.17 L211.54,195.66 L212.05,196.31 L212.57,196.41 L213.09,195.56 L213.61,197.22 L214.13,197.79 L214.65,197.24 L215.16,195.28 L215.68,196.36 L216.20,196.09 L216.71,196.06 L217.22,195.63 L217.73,196.34 L218.24,196.15 L218.75,196.98 L219.25,197.48 L219.76,197.83 L220.27,198.15 L220.78,197.68 L221.29,198.77 L221.80,200.33 L222.33,198.84 L222.85,197.26 L223.38,197.64 L223.90,197.43 L224.43,198.73 L224.95,199.63 L225.47,195.85 L226.00,196.98 L226.50,197.08 L227.00,198.41 L227.50,196.37 L228.00,196.56 L228.50,197.82 L229.00,197.75 L229.50,196.66 L230.00,197.20 L230.50,199.37 L231.00,197.36 L231.50,198.37 L232.00,195.46 L232.50,195.74 L233.00,193.98 L233.50,197.26 L234.00,194.97 L234.50,197.39 L235.00,196.63 L235.50,196.48 L236.00,197.66 L236.50,198.20 L237.00,195.15 L237.50,193.32 L238.00,195.71 L238.50,195.54 L239.00,195.51 L239.50,194.68 L240.00,196.31 L240.50,196.92 L241.00,195.59 L241.50,196.65 L242.00,196.12 L242.50,195.85 L243.00,193.51 L243.50,194.04 L244.00,196.33 L244.50,193.86 L245.00,197.16 L245.51,196.31 L246.02,194.82 L246.53,194.32 L247.04,196.53 L247.55,195.59 L248.05,197.81 L248.56,196.66 L249.07,195.74 L249.58,194.61 L250.09,195.01 L250.60,195.85 L251.14,194.09 L251.68,194.89 L252.21,194.02 L252.75,192.87 L253.29,191.11 L253.82,191.22 L254.36,191.43 L254.90,189.89 L255.41,190.22 L255.93,191.77 L256.44,191.38 L256.95,191.98 L257.46,191.43 L257.98,192.97 L258.49,191.44 L259.00,192.42 L259.52,191.27 L260.04,191.94 L260.55,191.62 L261.07,191.81 L261.59,192.54 L262.11,192.24 L262.63,192.64 L263.15,192.10 L263.66,191.94 L264.18,191.69 L264.70,192.18 L265.22,192.04 L265.74,192.16 L266.25,193.14 L266.77,192.98 L267.29,194.12 L267.81,193.37 L268.33,192.15 L268.85,191.86 L269.36,194.60 L269.88,193.16 L270.40,192.78 L270.91,194.17 L271.42,192.96 L271.93,192.99 L272.44,193.64 L272.95,193.56 L273.45,194.13 L273.96,193.77 L274.47,193.17 L274.98,193.34 L275.49,194.00 L276.00,192.33 L276.51,193.20 L277.02,192.20 L277.53,194.69 L278.04,195.34 L278.55,194.63 L279.05,195.44 L279.56,196.54 L280.07,195.56 L280.58,196.50 L281.09,196.82 L281.60,196.93 L282.12,195.22 L282.64,196.11 L283.15,195.79 L283.67,196.08 L284.19,196.17 L284.71,198.20 L285.23,198.13 L285.75,195.98 L286.26,194.97 L286.78,196.26 L287.30,195.79 L287.82,195.25 L288.34,195.48 L288.87,195.33 L289.39,196.11 L289.91,195.81 L290.43,195.67 L290.96,195.06 L291.48,195.13 L292.00,195.98 L292.51,196.91 L293.02,196.50 L293.53,195.47 L294.04,196.26 L294.55,194.27 L295.06,195.05 L295.57,194.60 L296.08,194.63 L296.59,194.34 L297.10,192.97 L297.68,194.43 L298.26,193.95 L298.84,192.38 L299.42,193.00 L300.00,192.80" fill="none" stroke="#333333" stroke-width="0.95" stroke-linejoin="round"/>
<path d="M193.80,216.10 L194.26,215.68 L194.72,215.51 L195.18,217.19 L195.63,217.12 L196.09,217.09 L196.55,216.73 L197.01,215.73 L197.47,216.13 L197.93,216.97 L198.38,215.33 L198.84,215.29 L199.30,215.08 L199.77,215.95 L200.23,216.07 L200.70,216.09 L201.17,216.90 L201.63,214.42 L202.10,215.97 L202.57,212.77 L203.03,213.94 L203.50,214.13 L203.97,213.96 L204.43,214.16 L204.90,213.93 L205.37,214.36 L205.83,212.55 L206.30,214.01 L206.77,212.22 L207.23,212.44 L207.70,210.17 L208.17,213.46 L208.63,213.08 L209.10,211.97 L209.57,214.75 L210.03,213.96 L210.50,212.35 L210.97,213.15 L211.45,210.28 L211.93,212.47 L212.40,209.50 L212.88,213.46 L213.35,213.29 L213.82,209.28 L214.30,211.54 L214.77,208.56 L215.25,209.25 L215.72,209.35 L216.20,204.77 L216.65,208.74 L217.11,209.50 L217.56,209.56 L218.01,206.96 L218.47,207.91 L218.92,210.42 L219.37,210.77 L219.83,210.13 L220.28,207.71 L220.73,207.93 L221.19,210.75 L221.64,212.55 L222.09,211.63 L222.55,211.93 L223.00,212.25 L223.46,210.87 L223.91,210.13 L224.37,210.05 L224.82,210.39 L225.28,209.30 L225.74,209.12 L226.19,210.33 L226.65,208.25 L227.11,210.89 L227.56,208.28 L228.02,207.84 L228.48,210.06 L228.93,210.20 L229.39,207.91 L229.84,211.67 L230.30,207.84 L230.75,210.38 L231.21,211.97 L231.66,209.60 L232.11,207.22 L232.56,209.78 L233.02,207.01 L233.47,210.17 L233.92,208.71 L234.38,211.65 L234.83,210.83 L235.28,213.51 L235.74,212.06 L236.19,210.32 L236.64,211.12 L237.09,210.56 L237.55,210.52 L238.00,209.31 L238.47,208.74 L238.93,210.89 L239.40,210.50 L239.87,212.10 L240.33,210.41 L240.80,210.47 L241.27,211.22 L241.73,211.61 L242.20,211.53 L242.67,210.90 L243.13,209.27 L243.60,212.92 L244.07,211.73 L244.53,212.71 L245.00,214.13 L245.47,212.50 L245.93,212.16 L246.40,211.93 L246.87,210.68 L247.33,211.35 L247.80,211.62 L248.27,212.61 L248.73,211.76 L249.20,213.06 L249.67,212.87 L250.13,213.31 L250.60,214.28 L251.09,213.32 L251.57,212.01 L252.06,212.99 L252.54,213.15 L253.03,213.03 L253.51,213.63 L254.00,213.20 L254.46,213.44 L254.93,212.99 L255.39,212.78 L255.85,212.90 L256.31,212.83 L256.77,211.68 L257.24,210.30 L257.70,211.47 L258.17,211.90 L258.63,209.70 L259.10,209.82 L259.57,209.25 L260.03,207.93 L260.50,206.89 L260.97,207.24 L261.43,207.11 L261.90,207.14 L262.37,207.84 L262.83,207.04 L263.30,206.33 L263.77,207.58 L264.23,207.01 L264.70,206.81 L265.18,208.25 L265.65,208.07 L266.12,207.02 L266.60,207.22 L267.07,207.49 L267.55,207.36 L268.02,208.71 L268.50,209.13 L268.97,208.14 L269.45,209.62 L269.92,208.89 L270.40,208.77 L270.87,208.55 L271.33,209.72 L271.80,209.16 L272.27,210.61 L272.73,209.10 L273.20,210.75 L273.67,211.74 L274.13,211.52 L274.60,211.32 L275.07,209.81 L275.53,210.56 L276.00,211.84 L276.47,211.64 L276.93,210.99 L277.40,210.67 L277.87,211.50 L278.33,211.37 L278.80,210.29 L279.27,210.78 L279.73,210.95 L280.20,210.14 L280.67,210.88 L281.13,212.06 L281.60,212.71 L282.08,210.95 L282.55,210.21 L283.03,211.22 L283.50,211.49 L283.98,210.37 L284.45,211.04 L284.93,210.17 L285.40,209.62 L285.88,211.36 L286.35,211.17 L286.82,210.42 L287.30,210.47 L287.77,211.34 L288.23,211.19 L288.70,211.16 L289.17,211.17 L289.63,211.42 L290.10,211.34 L290.57,210.96 L291.03,210.30 L291.50,210.98 L291.97,209.69 L292.43,209.94 L292.90,209.27 L293.37,209.37 L293.85,209.47 L294.32,208.92 L294.79,208.61 L295.27,209.19 L295.74,209.14 L296.21,208.79 L296.69,208.96 L297.16,208.16 L297.63,207.22 L298.11,207.51 L298.58,207.88 L299.05,207.68 L299.53,207.25 L300.00,207.70" fill="none" stroke="#4646f0" stroke-width="1.0" stroke-linejoin="round"/>
<line x1="187.30" y1="205.80" x2="187.30" y2="222.10" stroke="#000" stroke-width="0.8"/>
<line x1="187.30" y1="222.10" x2="200.60" y2="222.10" stroke="#000" stroke-width="0.8"/>
<text x="187.30" y="230.20" font-size="5.7" text-anchor="start" fill="#000" stroke="#000" stroke-width="0.12" >50 secs</text>
<text x="184.00" y="214.20" font-size="5.8" text-anchor="middle" fill="#000" stroke="#000" stroke-width="0.12" transform="rotate(-90 184.00 214.20)" >0.5 340/385</text>
<text x="283.00" y="189.40" font-size="6.5" text-anchor="middle" fill="#9050d0" stroke="#9050d0" stroke-width="0.12" >Fura2</text>
<line x1="186.50" y1="241.70" x2="195.60" y2="241.70" stroke="#b4b4b4" stroke-width="1.1"/>
<text x="200.80" y="243.90" font-size="6.2" text-anchor="start" fill="#000" stroke="#000" stroke-width="0.12" >GC<tspan dy="-2.2" font-size="3.9" stroke-width="0.08">+/+</tspan><tspan dy="2.2"> + SC</tspan></text>
<line x1="234.00" y1="241.70" x2="242.70" y2="241.70" stroke="#444" stroke-width="1.1"/>
<text x="247.50" y="243.90" font-size="6.2" text-anchor="start" fill="#000" stroke="#000" stroke-width="0.12" >GC<tspan dy="-2.2" font-size="3.9" stroke-width="0.08">+/+</tspan><tspan dy="2.2"> + HFD</tspan></text>
<line x1="186.50" y1="248.80" x2="195.60" y2="248.80" stroke="#88bcf2" stroke-width="1.1"/>
<text x="200.80" y="251.00" font-size="6.2" text-anchor="start" fill="#000" stroke="#000" stroke-width="0.12" >GC<tspan dy="-2.2" font-size="3.9" stroke-width="0.08">-/-</tspan><tspan dy="2.2"> + SC</tspan></text>
<line x1="234.00" y1="248.80" x2="242.70" y2="248.80" stroke="#7c7cee" stroke-width="1.1"/>
<text x="247.50" y="251.00" font-size="6.2" text-anchor="start" fill="#000" stroke="#000" stroke-width="0.12" >GC<tspan dy="-2.2" font-size="3.9" stroke-width="0.08">-/-</tspan><tspan dy="2.2"> + HFD</tspan></text>
<text x="307.40" y="148.20" font-size="15" text-anchor="start" fill="#000" font-weight="bold" >I</text>
<text x="360.60" y="148.70" font-size="6.5" text-anchor="middle" fill="#9050d0" stroke="#9050d0" stroke-width="0.12" >Fura2</text>
<defs><linearGradient id="cb" x1="0" x2="1" y1="0" y2="0"><stop offset="0" stop-color="#1010b0"/><stop offset="0.15" stop-color="#1040ff"/><stop offset="0.3" stop-color="#10d0ff"/><stop offset="0.45" stop-color="#40e060"/><stop offset="0.62" stop-color="#f0f010"/><stop offset="0.8" stop-color="#ff9010"/><stop offset="1" stop-color="#ff2010"/></linearGradient><radialGradient id="g1" cx="0.5" cy="0.5" r="0.5"><stop offset="0" stop-color="#1a70ff"/><stop offset="0.7" stop-color="#1a80ff"/><stop offset="0.9" stop-color="#1060f0"/><stop offset="1" stop-color="#0030a0"/></radialGradient><radialGradient id="g2" cx="0.5" cy="0.5" r="0.5"><stop offset="0" stop-color="#2a90ff"/><stop offset="0.85" stop-color="#2088ff"/><stop offset="1" stop-color="#1050d0"/></radialGradient><radialGradient id="g3" cx="0.5" cy="0.5" r="0.5"><stop offset="0" stop-color="#000850"/><stop offset="0.6" stop-color="#0a2a90"/><stop offset="0.82" stop-color="#1868f0"/><stop offset="1" stop-color="#0a3ab0"/></radialGradient></defs>
<rect x="318.20" y="151.80" width="85.00" height="4.60" fill="url(#cb)" stroke="none" stroke-width="0"/>
<text x="319.30" y="155.90" font-size="4.8" text-anchor="start" fill="#b8b8ff" stroke="#b8b8ff" stroke-width="0.12" >Min</text>
<text x="360.30" y="155.90" font-size="4.4" text-anchor="middle" fill="#222" stroke="#222" stroke-width="0.12" >Δ340/385</text>
<text x="402.40" y="155.90" font-size="4.8" text-anchor="end" fill="#801818" stroke="#801818" stroke-width="0.12" >Max</text>
<defs><clipPath id="cTL"><rect x="318.4" y="157.6" width="41.6" height="44.1"/></clipPath><clipPath id="cTR"><rect x="361.2" y="157.6" width="41.6" height="44.1"/></clipPath><clipPath id="cBL"><rect x="318.4" y="203.4" width="41.0" height="44.1"/></clipPath><clipPath id="cBR"><rect x="361.2" y="203.4" width="41.6" height="44.1"/></clipPath><filter id="spk" x="0" y="0" width="1" height="1" filterUnits="objectBoundingBox"><feTurbulence type="fractalNoise" baseFrequency="0.55" numOctaves="2" seed="4" result="n"/><feColorMatrix in="n" type="matrix" values="0 0 0 0 0.1  0 0 0 0 0.78  0 0 0 0 1  3.2 0 0 0 -1.35" result="c0"/><feGaussianBlur in="c0" stdDeviation="0.35" result="c"/><feComposite in="c" in2="SourceGraphic" operator="in"/></filter><filter id="spkd" x="0" y="0" width="1" height="1" filterUnits="objectBoundingBox"><feTurbulence type="fractalNoise" baseFrequency="0.7" numOctaves="2" seed="9" result="n"/><feColorMatrix in="n" type="matrix" values="0 0 0 0 0  0 0 0 0 0.05  0 0 0 0 0.35  0 4 0 0 -1.7" result="c"/><feComposite in="c" in2="SourceGraphic" operator="in"/></filter><filter id="spkg" x="0" y="0" width="1" height="1" filterUnits="objectBoundingBox"><feTurbulence type="fractalNoise" baseFrequency="1.1" numOctaves="1" seed="2" result="n"/><feColorMatrix in="n" type="matrix" values="0 0 0 0 0.2  0 0 0 0 0.7  0 0 0 0 0.5  5 0 0 0 -2.4" result="c"/><feComposite in="c" in2="SourceGraphic" operator="in"/></filter><filter id="spkk" x="0" y="0" width="1" height="1" filterUnits="objectBoundingBox"><feTurbulence type="fractalNoise" baseFrequency="0.5" numOctaves="2" seed="11" result="n"/><feColorMatrix in="n" type="matrix" values="0 0 0 0 0  0 0 0 0 0.05  0 0 0 0 0.45  0 0 3.2 0 -1.45" result="c"/><feComposite in="c" in2="SourceGraphic" operator="in"/></filter><radialGradient id="gTL" cx="0.5" cy="0.5" r="0.5"><stop offset="0" stop-color="#0840d8"/><stop offset="0.55" stop-color="#0c5cf8"/><stop offset="0.8" stop-color="#1ca0ff"/><stop offset="0.93" stop-color="#30c8ff"/><stop offset="1" stop-color="#0c50d0"/></radialGradient><radialGradient id="gTR" cx="0.5" cy="0.55" r="0.5"><stop offset="0" stop-color="#40b4ff"/><stop offset="0.5" stop-color="#32a4ff"/><stop offset="0.8" stop-color="#2490ff"/><stop offset="0.94" stop-color="#1870f0"/><stop offset="1" stop-color="#0c48c0"/></radialGradient><radialGradient id="gBL" cx="0.5" cy="0.5" r="0.5"><stop offset="0" stop-color="#00127a"/><stop offset="0.5" stop-color="#022496"/><stop offset="0.7" stop-color="#0a54e8"/><stop offset="0.84" stop-color="#1aa0ff"/><stop offset="0.94" stop-color="#1280f8"/><stop offset="1" stop-color="#0838b0"/></radialGradient><radialGradient id="gBR" cx="0.5" cy="0.5" r="0.5"><stop offset="0" stop-color="#38a8ff"/><stop offset="0.6" stop-color="#2c98ff"/><stop offset="0.85" stop-color="#1e80ff"/><stop offset="0.95" stop-color="#1464f0"/><stop offset="1" stop-color="#0a40c0"/></radialGradient><radialGradient id="grn" cx="0.5" cy="0.5" r="0.5"><stop offset="0" stop-color="#e8ff40"/><stop offset="0.5" stop-color="#70f060"/><stop offset="1" stop-color="#20c0ff" stop-opacity="0"/></radialGradient></defs>
<g clip-path="url(#cTL)">
<rect x="318.40" y="157.60" width="41.60" height="44.10" fill="#000014" stroke="none" stroke-width="0"/>
<ellipse cx="361.5" cy="158.5" rx="8.5" ry="7.5" fill="#1478ff"/>
<ellipse cx="361.5" cy="197" rx="9.5" ry="12" fill="#0a60f4"/>
<path d="M338.4,165 C348,164.7 354.5,172.3 354.2,181.8 C354,191.3 347,198 338,197.8 C329,197.7 322.6,190.8 322.8,181.3 C323,171.8 329.5,165.3 338.4,165 Z" fill="url(#gTL)"/>
<ellipse cx="338.4" cy="181.4" rx="13" ry="13.5" fill="#fff" filter="url(#spkk)"/>
<ellipse cx="338.4" cy="181.4" rx="15.6" ry="16.4" fill="#fff" filter="url(#spk)"/>
<ellipse cx="361" cy="196" rx="8" ry="10" fill="#fff" filter="url(#spk)" opacity="0.6"/>
<ellipse cx="327.6" cy="188.6" rx="3.0" ry="2.0" fill="url(#grn)"/>
<ellipse cx="333.5" cy="191" rx="3.4" ry="1.7" fill="url(#grn)"/>
<ellipse cx="341" cy="192.6" rx="3.6" ry="1.6" fill="url(#grn)"/>
<ellipse cx="348" cy="191" rx="2.4" ry="1.5" fill="url(#grn)"/>
</g>
<g clip-path="url(#cTR)">
<rect x="361.20" y="157.60" width="41.60" height="44.10" fill="#00005c" stroke="none" stroke-width="0"/>
<rect x="361.2" y="157.6" width="41.6" height="44.1" fill="#fff" filter="url(#spkd)"/>
<ellipse cx="359" cy="179" rx="4.5" ry="13" fill="#1466f0"/>
<ellipse cx="383.4" cy="180.7" rx="14.8" ry="18.8" transform="rotate(-12 383.4 180.7)" fill="url(#gTR)"/>
<ellipse cx="383.4" cy="180.7" rx="14.8" ry="18.8" transform="rotate(-12 383.4 180.7)" fill="#fff" filter="url(#spk)" opacity="0.8"/>
<circle cx="387.4" cy="175.8" r="1.6" fill="url(#grn)"/>
<circle cx="383.8" cy="183.9" r="1.3" fill="url(#grn)"/>
<circle cx="382" cy="188.7" r="1.6" fill="url(#grn)"/>
<circle cx="383" cy="193.1" r="2.0" fill="url(#grn)"/>
<circle cx="386.4" cy="196.4" r="2.4" fill="url(#grn)"/>
</g>
<g clip-path="url(#cBL)">
<rect x="318.40" y="203.40" width="41.00" height="44.10" fill="#000004" stroke="none" stroke-width="0"/>
<ellipse cx="338.6" cy="227.2" rx="18.4" ry="18.4" fill="url(#gBL)"/>
<ellipse cx="338.6" cy="227.2" rx="18.4" ry="18.4" fill="#fff" filter="url(#spk)" opacity="0.6"/>
<ellipse cx="338.6" cy="227.2" rx="12" ry="12" fill="#fff" filter="url(#spkk)"/>
<ellipse cx="328.5" cy="225" rx="2.6" ry="1.8" fill="url(#grn)"/>
<ellipse cx="331" cy="227" rx="1.6" ry="1.2" fill="url(#grn)"/>
<ellipse cx="338.2" cy="232" rx="2.8" ry="1.6" fill="url(#grn)"/>
<ellipse cx="336" cy="239.5" rx="4.6" ry="2.6" fill="url(#grn)"/>
<ellipse cx="345" cy="220" rx="1.6" ry="1.2" fill="url(#grn)"/>
</g>
<g clip-path="url(#cBR)">
<rect x="361.20" y="203.40" width="41.60" height="44.10" fill="#020a5e" stroke="none" stroke-width="0"/>
<rect x="361.2" y="203.4" width="41.6" height="44.1" fill="#fff" filter="url(#spkd)"/>
<rect x="361.2" y="203.4" width="41.6" height="44.1" fill="#fff" filter="url(#spk)" opacity="0.25"/>
<path d="M385,203.4 C400,208 404,222 402.8,247.5 L402.8,203.4 Z" fill="#fff" filter="url(#spkg)"/>
<path d="M386,203.4 C398,206 404,216 402.8,240" fill="none" stroke="#fff" stroke-width="9" filter="url(#spkg)"/>
<ellipse cx="375" cy="252" rx="7" ry="6.5" fill="none" stroke="#1060f0" stroke-width="2"/>
<ellipse cx="380.8" cy="225.4" rx="14.8" ry="16.6" fill="url(#gBR)"/>
<ellipse cx="380.8" cy="225.4" rx="14.8" ry="16.6" fill="#fff" filter="url(#spk)" opacity="0.75"/>
</g>
<text x="319.60" y="165.00" font-size="6.8" text-anchor="start" fill="#fff" >SC</text>
<text x="362.20" y="165.00" font-size="6.8" text-anchor="start" fill="#fff" >HFD</text>
<text x="319.60" y="210.90" font-size="6.8" text-anchor="start" fill="#fff" >SC</text>
<text x="362.20" y="210.90" font-size="6.8" text-anchor="start" fill="#fff" >HFD</text>
<text x="358.00" y="199.00" font-size="6.5" text-anchor="end" fill="#fff" >G0.5</text>
<text x="358.00" y="245.00" font-size="6.5" text-anchor="end" fill="#fff" >G0.5</text>
<text x="316.2" y="180.5" font-size="6.4" text-anchor="middle" stroke="#000" stroke-width="0.2" transform="rotate(-90 316.2 180.5)">GC<tspan dy="-2.4" font-size="4.8" stroke-width="0.08">+/+</tspan></text>
<text x="316.2" y="225.5" font-size="6.4" text-anchor="middle" stroke="#000" stroke-width="0.2" transform="rotate(-90 316.2 225.5)">GC<tspan dy="-2.4" font-size="4.8" stroke-width="0.08">-/-</tspan></text>
<text x="409.50" y="148.30" font-size="15" text-anchor="start" fill="#000" font-weight="bold" >J</text>
<text x="418.00" y="195.60" font-size="6.8" text-anchor="middle" fill="#000" stroke="#000" stroke-width="0.12" transform="rotate(-90 418.00 195.60)" >% islet active at G0.5</text>
<line x1="433.60" y1="160.50" x2="433.60" y2="232.20" stroke="#000" stroke-width="0.8"/>
<line x1="430.60" y1="160.80" x2="433.60" y2="160.80" stroke="#000" stroke-width="0.8"/>
<text x="429.60" y="163.05" font-size="6.6" text-anchor="end" fill="#000" stroke="#000" stroke-width="0.12" >40</text>
<line x1="430.60" y1="178.60" x2="433.60" y2="178.60" stroke="#000" stroke-width="0.8"/>
<text x="429.60" y="180.85" font-size="6.6" text-anchor="end" fill="#000" stroke="#000" stroke-width="0.12" >30</text>
<line x1="430.60" y1="196.30" x2="433.60" y2="196.30" stroke="#000" stroke-width="0.8"/>
<text x="429.60" y="198.55" font-size="6.6" text-anchor="end" fill="#000" stroke="#000" stroke-width="0.12" >20</text>
<line x1="430.60" y1="214.40" x2="433.60" y2="214.40" stroke="#000" stroke-width="0.8"/>
<text x="429.60" y="216.65" font-size="6.6" text-anchor="end" fill="#000" stroke="#000" stroke-width="0.12" >10</text>
<line x1="430.60" y1="232.20" x2="433.60" y2="232.20" stroke="#000" stroke-width="0.8"/>
<text x="429.60" y="234.45" font-size="6.6" text-anchor="end" fill="#000" stroke="#000" stroke-width="0.12" >0</text>
<line x1="433.60" y1="232.20" x2="461.30" y2="232.20" stroke="#000" stroke-width="0.8"/>
<line x1="439.60" y1="232.20" x2="439.60" y2="234.40" stroke="#000" stroke-width="0.7"/>
<line x1="454.20" y1="232.20" x2="454.20" y2="234.40" stroke="#000" stroke-width="0.7"/>
<rect x="436.20" y="204.50" width="7.60" height="27.50" fill="#9c9c9c" stroke="#333" stroke-width="0.5"/>
<circle cx="440.00" cy="182.90" r="1.5" fill="#fff" stroke="#333" stroke-width="0.5"/>
<circle cx="437.90" cy="200.00" r="1.5" fill="#fff" stroke="#333" stroke-width="0.5"/>
<circle cx="441.00" cy="200.00" r="1.5" fill="#fff" stroke="#333" stroke-width="0.5"/>
<circle cx="438.40" cy="204.50" r="1.5" fill="#fff" stroke="#333" stroke-width="0.5"/>
<circle cx="441.80" cy="204.50" r="1.5" fill="#fff" stroke="#333" stroke-width="0.5"/>
<circle cx="440.00" cy="207.10" r="1.5" fill="#fff" stroke="#333" stroke-width="0.5"/>
<circle cx="437.40" cy="209.70" r="1.5" fill="#fff" stroke="#333" stroke-width="0.5"/>
<circle cx="441.00" cy="211.00" r="1.5" fill="#fff" stroke="#333" stroke-width="0.5"/>
<circle cx="439.20" cy="216.30" r="1.5" fill="#fff" stroke="#333" stroke-width="0.5"/>
<rect x="450.70" y="208.40" width="7.00" height="23.60" fill="#4848f2" stroke="#333" stroke-width="0.5"/>
<circle cx="452.40" cy="199.20" r="1.5" fill="#fff" stroke="#333" stroke-width="0.5"/>
<circle cx="456.30" cy="198.70" r="1.5" fill="#fff" stroke="#333" stroke-width="0.5"/>
<circle cx="454.20" cy="205.80" r="1.5" fill="#fff" stroke="#333" stroke-width="0.5"/>
<circle cx="454.20" cy="215.00" r="1.5" fill="#fff" stroke="#333" stroke-width="0.5"/>
<circle cx="453.70" cy="221.60" r="1.5" fill="#fff" stroke="#333" stroke-width="0.5"/>
<text x="447.50" y="171.20" font-size="6.4" text-anchor="middle" fill="#000" stroke="#000" stroke-width="0.12" >0.6620</text>
<polyline points="440.00,179.50 440.00,175.00 454.20,175.00 454.20,193.40" fill="none" stroke="#000" stroke-width="0.7"/>
<text x="449.60" y="187.00" font-size="6.7" text-anchor="middle" fill="#27a9e6" stroke="#27a9e6" stroke-width="0.12" transform="rotate(-90 449.60 187.00)" >Fluo8</text>
<text x="442.20" y="241.10" font-size="6.3" text-anchor="end" fill="#000" stroke="#000" stroke-width="0.12" transform="rotate(-45 442.20 241.10)" >GC<tspan dy="-2.4" font-size="5.0" stroke-width="0.08">+/+</tspan><tspan dy="2.4"> + HFD</tspan></text>
<text x="456.40" y="241.10" font-size="6.3" text-anchor="end" fill="#000" stroke="#000" stroke-width="0.12" transform="rotate(-45 456.40 241.10)" >GC<tspan dy="-2.4" font-size="5.0" stroke-width="0.08">-/-</tspan><tspan dy="2.4"> + HFD</tspan></text>
<text x="463.80" y="148.30" font-size="15" text-anchor="start" fill="#000" font-weight="bold" >K</text>
<text x="473" y="196.5" font-size="6.9" text-anchor="middle" transform="rotate(-90 473 196.5)">Ca<tspan dy="-2.5" font-size="4.7">2+</tspan><tspan dy="2.5"> amplitude ΔF/F</tspan><tspan dy="1.6" font-size="4.7">min</tspan></text>
<line x1="489.20" y1="161.00" x2="489.20" y2="232.00" stroke="#000" stroke-width="0.8"/>
<line x1="486.20" y1="161.30" x2="489.20" y2="161.30" stroke="#000" stroke-width="0.8"/>
<text x="485.20" y="163.55" font-size="6.6" text-anchor="end" fill="#000" stroke="#000" stroke-width="0.12" >2.0</text>
<line x1="486.20" y1="178.50" x2="489.20" y2="178.50" stroke="#000" stroke-width="0.8"/>
<text x="485.20" y="180.75" font-size="6.6" text-anchor="end" fill="#000" stroke="#000" stroke-width="0.12" >1.5</text>
<line x1="486.20" y1="196.30" x2="489.20" y2="196.30" stroke="#000" stroke-width="0.8"/>
<text x="485.20" y="198.55" font-size="6.6" text-anchor="end" fill="#000" stroke="#000" stroke-width="0.12" >1.0</text>
<line x1="486.20" y1="214.10" x2="489.20" y2="214.10" stroke="#000" stroke-width="0.8"/>
<text x="485.20" y="216.35" font-size="6.6" text-anchor="end" fill="#000" stroke="#000" stroke-width="0.12" >0.5</text>
<line x1="486.20" y1="231.90" x2="489.20" y2="231.90" stroke="#000" stroke-width="0.8"/>
<text x="485.20" y="234.15" font-size="6.6" text-anchor="end" fill="#000" stroke="#000" stroke-width="0.12" >0.0</text>
<line x1="489.20" y1="232.00" x2="519.50" y2="232.00" stroke="#000" stroke-width="0.8"/>
<line x1="497.00" y1="232.00" x2="497.00" y2="234.40" stroke="#000" stroke-width="0.7"/>
<line x1="511.70" y1="232.00" x2="511.70" y2="234.40" stroke="#000" stroke-width="0.7"/>
<rect x="492.90" y="219.00" width="8.50" height="12.70" fill="#9c9c9c" stroke="#333" stroke-width="0.5"/>
<rect x="507.60" y="221.90" width="8.00" height="9.80" fill="#4848f2" stroke="#333" stroke-width="0.5"/>
<circle cx="496.58" cy="219.15" r="0.72" fill="#e8e8e8" stroke="#333" stroke-width="0.4"/>
<circle cx="497.94" cy="210.13" r="0.72" fill="#e8e8e8" stroke="#333" stroke-width="0.4"/>
<circle cx="497.01" cy="204.61" r="0.72" fill="#e8e8e8" stroke="#333" stroke-width="0.4"/>
<circle cx="495.31" cy="228.91" r="0.72" fill="#e8e8e8" stroke="#333" stroke-width="0.4"/>
<circle cx="497.40" cy="221.34" r="0.72" fill="#e8e8e8" stroke="#333" stroke-width="0.4"/>
<circle cx="496.72" cy="206.46" r="0.72" fill="#e8e8e8" stroke="#333" stroke-width="0.4"/>
<circle cx="496.82" cy="224.74" r="0.72" fill="#e8e8e8" stroke="#333" stroke-width="0.4"/>
<circle cx="495.71" cy="225.22" r="0.72" fill="#e8e8e8" stroke="#333" stroke-width="0.4"/>
<circle cx="495.90" cy="213.20" r="0.72" fill="#e8e8e8" stroke="#333" stroke-width="0.4"/>
<circle cx="498.42" cy="220.21" r="0.72" fill="#e8e8e8" stroke="#333" stroke-width="0.4"/>
<circle cx="497.96" cy="222.19" r="0.72" fill="#e8e8e8" stroke="#333" stroke-width="0.4"/>
<circle cx="497.77" cy="217.16" r="0.72" fill="#e8e8e8" stroke="#333" stroke-width="0.4"/>
<circle cx="496.48" cy="208.86" r="0.72" fill="#e8e8e8" stroke="#333" stroke-width="0.4"/>
<circle cx="497.83" cy="224.09" r="0.72" fill="#e8e8e8" stroke="#333" stroke-width="0.4"/>
<circle cx="495.68" cy="218.13" r="0.72" fill="#e8e8e8" stroke="#333" stroke-width="0.4"/>
<circle cx="496.16" cy="214.02" r="0.72" fill="#e8e8e8" stroke="#333" stroke-width="0.4"/>
<circle cx="497.90" cy="214.43" r="0.72" fill="#e8e8e8" stroke="#333" stroke-width="0.4"/>
<circle cx="498.05" cy="212.06" r="0.72" fill="#e8e8e8" stroke="#333" stroke-width="0.4"/>
<circle cx="495.22" cy="228.52" r="0.72" fill="#e8e8e8" stroke="#333" stroke-width="0.4"/>
<circle cx="496.97" cy="217.04" r="0.72" fill="#e8e8e8" stroke="#333" stroke-width="0.4"/>
<circle cx="496.83" cy="205.62" r="0.72" fill="#e8e8e8" stroke="#333" stroke-width="0.4"/>
<circle cx="495.43" cy="229.08" r="0.72" fill="#e8e8e8" stroke="#333" stroke-width="0.4"/>
<circle cx="495.66" cy="222.33" r="0.72" fill="#e8e8e8" stroke="#333" stroke-width="0.4"/>
<circle cx="498.38" cy="221.91" r="0.72" fill="#e8e8e8" stroke="#333" stroke-width="0.4"/>
<circle cx="495.65" cy="212.17" r="0.72" fill="#e8e8e8" stroke="#333" stroke-width="0.4"/>
<circle cx="497.10" cy="208.19" r="0.72" fill="#e8e8e8" stroke="#333" stroke-width="0.4"/>
<circle cx="496.09" cy="205.30" r="0.72" fill="#e8e8e8" stroke="#333" stroke-width="0.4"/>
<circle cx="498.41" cy="219.98" r="0.72" fill="#e8e8e8" stroke="#333" stroke-width="0.4"/>
<circle cx="496.67" cy="218.09" r="0.72" fill="#e8e8e8" stroke="#333" stroke-width="0.4"/>
<circle cx="495.54" cy="223.29" r="0.72" fill="#e8e8e8" stroke="#333" stroke-width="0.4"/>
<circle cx="495.86" cy="221.94" r="0.72" fill="#e8e8e8" stroke="#333" stroke-width="0.4"/>
<circle cx="498.63" cy="222.61" r="0.72" fill="#e8e8e8" stroke="#333" stroke-width="0.4"/>
<circle cx="497.13" cy="207.03" r="0.72" fill="#e8e8e8" stroke="#333" stroke-width="0.4"/>
<circle cx="495.76" cy="222.55" r="0.72" fill="#e8e8e8" stroke="#333" stroke-width="0.4"/>
<circle cx="498.43" cy="214.07" r="0.72" fill="#e8e8e8" stroke="#333" stroke-width="0.4"/>
<circle cx="495.41" cy="230.96" r="0.72" fill="#e8e8e8" stroke="#333" stroke-width="0.4"/>
<circle cx="498.68" cy="224.78" r="0.72" fill="#e8e8e8" stroke="#333" stroke-width="0.4"/>
<circle cx="497.31" cy="213.16" r="0.72" fill="#e8e8e8" stroke="#333" stroke-width="0.4"/>
<circle cx="496.69" cy="206.55" r="0.72" fill="#e8e8e8" stroke="#333" stroke-width="0.4"/>
<circle cx="497.33" cy="224.09" r="0.72" fill="#e8e8e8" stroke="#333" stroke-width="0.4"/>
<circle cx="495.42" cy="226.29" r="0.72" fill="#e8e8e8" stroke="#333" stroke-width="0.4"/>
<circle cx="498.11" cy="216.21" r="0.72" fill="#e8e8e8" stroke="#333" stroke-width="0.4"/>
<circle cx="496.83" cy="222.04" r="0.72" fill="#e8e8e8" stroke="#333" stroke-width="0.4"/>
<circle cx="498.54" cy="217.64" r="0.72" fill="#e8e8e8" stroke="#333" stroke-width="0.4"/>
<circle cx="495.32" cy="221.82" r="0.72" fill="#e8e8e8" stroke="#333" stroke-width="0.4"/>
<circle cx="496.34" cy="226.83" r="0.72" fill="#e8e8e8" stroke="#333" stroke-width="0.4"/>
<circle cx="496.08" cy="218.43" r="0.72" fill="#e8e8e8" stroke="#333" stroke-width="0.4"/>
<circle cx="496.43" cy="218.69" r="0.72" fill="#e8e8e8" stroke="#333" stroke-width="0.4"/>
<circle cx="497.32" cy="208.39" r="0.72" fill="#e8e8e8" stroke="#333" stroke-width="0.4"/>
<circle cx="497.71" cy="208.91" r="0.72" fill="#e8e8e8" stroke="#333" stroke-width="0.4"/>
<circle cx="497.63" cy="205.72" r="0.72" fill="#e8e8e8" stroke="#333" stroke-width="0.4"/>
<circle cx="496.99" cy="227.00" r="0.72" fill="#e8e8e8" stroke="#333" stroke-width="0.4"/>
<circle cx="496.06" cy="224.87" r="0.72" fill="#e8e8e8" stroke="#333" stroke-width="0.4"/>
<circle cx="496.72" cy="225.49" r="0.72" fill="#e8e8e8" stroke="#333" stroke-width="0.4"/>
<circle cx="498.30" cy="213.00" r="0.72" fill="#e8e8e8" stroke="#333" stroke-width="0.4"/>
<circle cx="496.60" cy="217.60" r="0.72" fill="#e8e8e8" stroke="#333" stroke-width="0.4"/>
<circle cx="496.48" cy="228.11" r="0.72" fill="#e8e8e8" stroke="#333" stroke-width="0.4"/>
<circle cx="495.80" cy="223.94" r="0.72" fill="#e8e8e8" stroke="#333" stroke-width="0.4"/>
<circle cx="496.05" cy="227.76" r="0.72" fill="#e8e8e8" stroke="#333" stroke-width="0.4"/>
<circle cx="498.10" cy="206.88" r="0.72" fill="#e8e8e8" stroke="#333" stroke-width="0.4"/>
<circle cx="498.19" cy="211.24" r="0.72" fill="#e8e8e8" stroke="#333" stroke-width="0.4"/>
<circle cx="497.45" cy="230.72" r="0.72" fill="#e8e8e8" stroke="#333" stroke-width="0.4"/>
<circle cx="496.04" cy="204.97" r="0.72" fill="#e8e8e8" stroke="#333" stroke-width="0.4"/>
<circle cx="496.69" cy="212.33" r="0.72" fill="#e8e8e8" stroke="#333" stroke-width="0.4"/>
<circle cx="498.66" cy="222.67" r="0.72" fill="#e8e8e8" stroke="#333" stroke-width="0.4"/>
<circle cx="495.90" cy="216.41" r="0.72" fill="#e8e8e8" stroke="#333" stroke-width="0.4"/>
<circle cx="495.74" cy="221.52" r="0.72" fill="#e8e8e8" stroke="#333" stroke-width="0.4"/>
<circle cx="497.14" cy="208.31" r="0.72" fill="#e8e8e8" stroke="#333" stroke-width="0.4"/>
<circle cx="495.39" cy="224.57" r="0.72" fill="#e8e8e8" stroke="#333" stroke-width="0.4"/>
<circle cx="497.66" cy="218.87" r="0.72" fill="#e8e8e8" stroke="#333" stroke-width="0.4"/>
<circle cx="496.55" cy="226.07" r="0.72" fill="#e8e8e8" stroke="#333" stroke-width="0.4"/>
<circle cx="495.67" cy="228.68" r="0.72" fill="#e8e8e8" stroke="#333" stroke-width="0.4"/>
<circle cx="498.01" cy="225.00" r="0.72" fill="#e8e8e8" stroke="#333" stroke-width="0.4"/>
<circle cx="496.98" cy="228.54" r="0.72" fill="#e8e8e8" stroke="#333" stroke-width="0.4"/>
<circle cx="495.88" cy="208.77" r="0.72" fill="#e8e8e8" stroke="#333" stroke-width="0.4"/>
<circle cx="495.89" cy="220.74" r="0.72" fill="#e8e8e8" stroke="#333" stroke-width="0.4"/>
<circle cx="495.51" cy="223.09" r="0.72" fill="#e8e8e8" stroke="#333" stroke-width="0.4"/>
<circle cx="495.93" cy="226.41" r="0.72" fill="#e8e8e8" stroke="#333" stroke-width="0.4"/>
<circle cx="496.29" cy="205.04" r="0.72" fill="#e8e8e8" stroke="#333" stroke-width="0.4"/>
<circle cx="497.19" cy="219.00" r="0.72" fill="#e8e8e8" stroke="#333" stroke-width="0.4"/>
<circle cx="495.98" cy="217.28" r="0.72" fill="#e8e8e8" stroke="#333" stroke-width="0.4"/>
<circle cx="498.48" cy="219.62" r="0.72" fill="#e8e8e8" stroke="#333" stroke-width="0.4"/>
<circle cx="498.51" cy="220.90" r="0.72" fill="#e8e8e8" stroke="#333" stroke-width="0.4"/>
<circle cx="498.11" cy="205.89" r="0.72" fill="#e8e8e8" stroke="#333" stroke-width="0.4"/>
<circle cx="497.18" cy="228.72" r="0.72" fill="#e8e8e8" stroke="#333" stroke-width="0.4"/>
<circle cx="497.13" cy="220.62" r="0.72" fill="#e8e8e8" stroke="#333" stroke-width="0.4"/>
<circle cx="495.24" cy="229.15" r="0.72" fill="#e8e8e8" stroke="#333" stroke-width="0.4"/>
<circle cx="497.15" cy="223.38" r="0.72" fill="#e8e8e8" stroke="#333" stroke-width="0.4"/>
<circle cx="497.66" cy="214.95" r="0.72" fill="#e8e8e8" stroke="#333" stroke-width="0.4"/>
<circle cx="495.51" cy="225.12" r="0.72" fill="#e8e8e8" stroke="#333" stroke-width="0.4"/>
<circle cx="496.83" cy="224.65" r="0.72" fill="#e8e8e8" stroke="#333" stroke-width="0.4"/>
<circle cx="497.46" cy="219.82" r="0.72" fill="#e8e8e8" stroke="#333" stroke-width="0.4"/>
<circle cx="497.24" cy="206.98" r="0.72" fill="#e8e8e8" stroke="#333" stroke-width="0.4"/>
<circle cx="498.18" cy="216.89" r="0.72" fill="#e8e8e8" stroke="#333" stroke-width="0.4"/>
<circle cx="497.90" cy="213.00" r="0.72" fill="#e8e8e8" stroke="#333" stroke-width="0.4"/>
<circle cx="497.47" cy="225.31" r="0.72" fill="#e8e8e8" stroke="#333" stroke-width="0.4"/>
<circle cx="495.14" cy="228.44" r="0.72" fill="#e8e8e8" stroke="#333" stroke-width="0.4"/>
<circle cx="497.40" cy="222.34" r="0.72" fill="#e8e8e8" stroke="#333" stroke-width="0.4"/>
<circle cx="496.66" cy="224.17" r="0.72" fill="#e8e8e8" stroke="#333" stroke-width="0.4"/>
<circle cx="496.26" cy="207.63" r="0.72" fill="#e8e8e8" stroke="#333" stroke-width="0.4"/>
<circle cx="495.87" cy="222.59" r="0.72" fill="#e8e8e8" stroke="#333" stroke-width="0.4"/>
<circle cx="496.66" cy="207.47" r="0.72" fill="#e8e8e8" stroke="#333" stroke-width="0.4"/>
<circle cx="497.12" cy="219.33" r="0.72" fill="#e8e8e8" stroke="#333" stroke-width="0.4"/>
<circle cx="497.62" cy="205.75" r="0.72" fill="#e8e8e8" stroke="#333" stroke-width="0.4"/>
<circle cx="497.85" cy="215.86" r="0.72" fill="#e8e8e8" stroke="#333" stroke-width="0.4"/>
<circle cx="497.98" cy="204.76" r="0.72" fill="#e8e8e8" stroke="#333" stroke-width="0.4"/>
<circle cx="498.67" cy="222.18" r="0.72" fill="#e8e8e8" stroke="#333" stroke-width="0.4"/>
<circle cx="498.39" cy="230.72" r="0.72" fill="#e8e8e8" stroke="#333" stroke-width="0.4"/>
<circle cx="496.62" cy="209.02" r="0.72" fill="#e8e8e8" stroke="#333" stroke-width="0.4"/>
<circle cx="497.78" cy="213.01" r="0.72" fill="#e8e8e8" stroke="#333" stroke-width="0.4"/>
<circle cx="496.24" cy="211.84" r="0.72" fill="#e8e8e8" stroke="#333" stroke-width="0.4"/>
<circle cx="496.05" cy="209.18" r="0.72" fill="#e8e8e8" stroke="#333" stroke-width="0.4"/>
<circle cx="498.95" cy="229.74" r="0.72" fill="#e8e8e8" stroke="#333" stroke-width="0.4"/>
<circle cx="497.75" cy="216.87" r="0.72" fill="#e8e8e8" stroke="#333" stroke-width="0.4"/>
<circle cx="497.07" cy="219.27" r="0.72" fill="#e8e8e8" stroke="#333" stroke-width="0.4"/>
<circle cx="497.42" cy="216.80" r="0.72" fill="#e8e8e8" stroke="#333" stroke-width="0.4"/>
<circle cx="496.32" cy="213.15" r="0.72" fill="#e8e8e8" stroke="#333" stroke-width="0.4"/>
<circle cx="495.98" cy="220.48" r="0.72" fill="#e8e8e8" stroke="#333" stroke-width="0.4"/>
<circle cx="498.44" cy="218.57" r="0.72" fill="#e8e8e8" stroke="#333" stroke-width="0.4"/>
<circle cx="496.12" cy="205.55" r="0.72" fill="#e8e8e8" stroke="#333" stroke-width="0.4"/>
<circle cx="495.29" cy="226.84" r="0.72" fill="#e8e8e8" stroke="#333" stroke-width="0.4"/>
<circle cx="498.00" cy="213.58" r="0.72" fill="#e8e8e8" stroke="#333" stroke-width="0.4"/>
<circle cx="496.01" cy="222.53" r="0.72" fill="#e8e8e8" stroke="#333" stroke-width="0.4"/>
<circle cx="496.47" cy="207.22" r="0.72" fill="#e8e8e8" stroke="#333" stroke-width="0.4"/>
<circle cx="497.89" cy="214.95" r="0.72" fill="#e8e8e8" stroke="#333" stroke-width="0.4"/>
<circle cx="498.19" cy="230.50" r="0.72" fill="#e8e8e8" stroke="#333" stroke-width="0.4"/>
<circle cx="498.74" cy="228.98" r="0.72" fill="#e8e8e8" stroke="#333" stroke-width="0.4"/>
<circle cx="498.68" cy="228.46" r="0.72" fill="#e8e8e8" stroke="#333" stroke-width="0.4"/>
<circle cx="495.32" cy="230.34" r="0.72" fill="#e8e8e8" stroke="#333" stroke-width="0.4"/>
<circle cx="496.24" cy="215.42" r="0.72" fill="#e8e8e8" stroke="#333" stroke-width="0.4"/>
<circle cx="496.97" cy="222.50" r="0.72" fill="#e8e8e8" stroke="#333" stroke-width="0.4"/>
<circle cx="498.03" cy="216.21" r="0.72" fill="#e8e8e8" stroke="#333" stroke-width="0.4"/>
<circle cx="496.08" cy="217.56" r="0.72" fill="#e8e8e8" stroke="#333" stroke-width="0.4"/>
<circle cx="496.89" cy="214.29" r="0.72" fill="#e8e8e8" stroke="#333" stroke-width="0.4"/>
<circle cx="497.24" cy="222.65" r="0.72" fill="#e8e8e8" stroke="#333" stroke-width="0.4"/>
<circle cx="495.99" cy="218.58" r="0.72" fill="#e8e8e8" stroke="#333" stroke-width="0.4"/>
<circle cx="496.45" cy="217.64" r="0.72" fill="#e8e8e8" stroke="#333" stroke-width="0.4"/>
<circle cx="497.12" cy="211.17" r="0.72" fill="#e8e8e8" stroke="#333" stroke-width="0.4"/>
<circle cx="497.57" cy="211.73" r="0.72" fill="#e8e8e8" stroke="#333" stroke-width="0.4"/>
<circle cx="495.68" cy="223.74" r="0.72" fill="#e8e8e8" stroke="#333" stroke-width="0.4"/>
<circle cx="496.42" cy="222.99" r="0.72" fill="#e8e8e8" stroke="#333" stroke-width="0.4"/>
<circle cx="497.35" cy="218.76" r="0.72" fill="#e8e8e8" stroke="#333" stroke-width="0.4"/>
<circle cx="498.46" cy="226.01" r="0.72" fill="#e8e8e8" stroke="#333" stroke-width="0.4"/>
<circle cx="495.91" cy="225.40" r="0.72" fill="#e8e8e8" stroke="#333" stroke-width="0.4"/>
<circle cx="496.44" cy="221.05" r="0.72" fill="#e8e8e8" stroke="#333" stroke-width="0.4"/>
<circle cx="497.12" cy="205.39" r="0.72" fill="#e8e8e8" stroke="#333" stroke-width="0.4"/>
<circle cx="498.21" cy="219.34" r="0.72" fill="#e8e8e8" stroke="#333" stroke-width="0.4"/>
<circle cx="498.00" cy="215.59" r="0.72" fill="#e8e8e8" stroke="#333" stroke-width="0.4"/>
<circle cx="495.65" cy="220.39" r="0.72" fill="#e8e8e8" stroke="#333" stroke-width="0.4"/>
<circle cx="496.20" cy="225.04" r="0.72" fill="#e8e8e8" stroke="#333" stroke-width="0.4"/>
<circle cx="496.93" cy="166.00" r="0.72" fill="#e8e8e8" stroke="#333" stroke-width="0.4"/>
<circle cx="496.56" cy="171.00" r="0.72" fill="#e8e8e8" stroke="#333" stroke-width="0.4"/>
<circle cx="496.51" cy="178.70" r="0.72" fill="#e8e8e8" stroke="#333" stroke-width="0.4"/>
<circle cx="497.24" cy="185.80" r="0.72" fill="#e8e8e8" stroke="#333" stroke-width="0.4"/>
<circle cx="496.53" cy="190.50" r="0.72" fill="#e8e8e8" stroke="#333" stroke-width="0.4"/>
<circle cx="496.62" cy="193.50" r="0.72" fill="#e8e8e8" stroke="#333" stroke-width="0.4"/>
<circle cx="496.63" cy="196.30" r="0.72" fill="#e8e8e8" stroke="#333" stroke-width="0.4"/>
<circle cx="496.58" cy="198.50" r="0.72" fill="#e8e8e8" stroke="#333" stroke-width="0.4"/>
<circle cx="497.16" cy="200.30" r="0.72" fill="#e8e8e8" stroke="#333" stroke-width="0.4"/>
<circle cx="497.30" cy="202.20" r="0.72" fill="#e8e8e8" stroke="#333" stroke-width="0.4"/>
<circle cx="511.32" cy="223.80" r="0.72" fill="#e8e8e8" stroke="#333" stroke-width="0.4"/>
<circle cx="511.72" cy="228.79" r="0.72" fill="#e8e8e8" stroke="#333" stroke-width="0.4"/>
<circle cx="512.19" cy="210.79" r="0.72" fill="#e8e8e8" stroke="#333" stroke-width="0.4"/>
<circle cx="510.99" cy="217.06" r="0.72" fill="#e8e8e8" stroke="#333" stroke-width="0.4"/>
<circle cx="511.36" cy="216.07" r="0.72" fill="#e8e8e8" stroke="#333" stroke-width="0.4"/>
<circle cx="512.00" cy="212.26" r="0.72" fill="#e8e8e8" stroke="#333" stroke-width="0.4"/>
<circle cx="511.98" cy="228.39" r="0.72" fill="#e8e8e8" stroke="#333" stroke-width="0.4"/>
<circle cx="512.10" cy="205.79" r="0.72" fill="#e8e8e8" stroke="#333" stroke-width="0.4"/>
<circle cx="511.65" cy="206.39" r="0.72" fill="#e8e8e8" stroke="#333" stroke-width="0.4"/>
<circle cx="512.41" cy="228.34" r="0.72" fill="#e8e8e8" stroke="#333" stroke-width="0.4"/>
<circle cx="512.73" cy="229.19" r="0.72" fill="#e8e8e8" stroke="#333" stroke-width="0.4"/>
<circle cx="510.67" cy="214.81" r="0.72" fill="#e8e8e8" stroke="#333" stroke-width="0.4"/>
<circle cx="512.29" cy="219.32" r="0.72" fill="#e8e8e8" stroke="#333" stroke-width="0.4"/>
<circle cx="511.23" cy="213.69" r="0.72" fill="#e8e8e8" stroke="#333" stroke-width="0.4"/>
<circle cx="511.12" cy="225.91" r="0.72" fill="#e8e8e8" stroke="#333" stroke-width="0.4"/>
<circle cx="511.86" cy="222.74" r="0.72" fill="#e8e8e8" stroke="#333" stroke-width="0.4"/>
<circle cx="509.76" cy="229.60" r="0.72" fill="#e8e8e8" stroke="#333" stroke-width="0.4"/>
<circle cx="512.45" cy="212.38" r="0.72" fill="#e8e8e8" stroke="#333" stroke-width="0.4"/>
<circle cx="510.23" cy="224.23" r="0.72" fill="#e8e8e8" stroke="#333" stroke-width="0.4"/>
<circle cx="510.96" cy="210.78" r="0.72" fill="#e8e8e8" stroke="#333" stroke-width="0.4"/>
<circle cx="513.08" cy="221.45" r="0.72" fill="#e8e8e8" stroke="#333" stroke-width="0.4"/>
<circle cx="510.88" cy="213.25" r="0.72" fill="#e8e8e8" stroke="#333" stroke-width="0.4"/>
<circle cx="511.42" cy="224.59" r="0.72" fill="#e8e8e8" stroke="#333" stroke-width="0.4"/>
<circle cx="513.67" cy="227.95" r="0.72" fill="#e8e8e8" stroke="#333" stroke-width="0.4"/>
<circle cx="512.58" cy="229.75" r="0.72" fill="#e8e8e8" stroke="#333" stroke-width="0.4"/>
<circle cx="510.23" cy="220.37" r="0.72" fill="#e8e8e8" stroke="#333" stroke-width="0.4"/>
<circle cx="511.31" cy="227.16" r="0.72" fill="#e8e8e8" stroke="#333" stroke-width="0.4"/>
<circle cx="512.13" cy="219.61" r="0.72" fill="#e8e8e8" stroke="#333" stroke-width="0.4"/>
<circle cx="511.93" cy="230.30" r="0.72" fill="#e8e8e8" stroke="#333" stroke-width="0.4"/>
<circle cx="513.59" cy="229.38" r="0.72" fill="#e8e8e8" stroke="#333" stroke-width="0.4"/>
<circle cx="511.35" cy="209.09" r="0.72" fill="#e8e8e8" stroke="#333" stroke-width="0.4"/>
<circle cx="512.78" cy="228.79" r="0.72" fill="#e8e8e8" stroke="#333" stroke-width="0.4"/>
<circle cx="510.40" cy="230.40" r="0.72" fill="#e8e8e8" stroke="#333" stroke-width="0.4"/>
<circle cx="513.17" cy="221.18" r="0.72" fill="#e8e8e8" stroke="#333" stroke-width="0.4"/>
<circle cx="512.28" cy="221.37" r="0.72" fill="#e8e8e8" stroke="#333" stroke-width="0.4"/>
<circle cx="510.34" cy="230.51" r="0.72" fill="#e8e8e8" stroke="#333" stroke-width="0.4"/>
<circle cx="512.53" cy="208.01" r="0.72" fill="#e8e8e8" stroke="#333" stroke-width="0.4"/>
<circle cx="510.65" cy="222.30" r="0.72" fill="#e8e8e8" stroke="#333" stroke-width="0.4"/>
<circle cx="510.85" cy="227.66" r="0.72" fill="#e8e8e8" stroke="#333" stroke-width="0.4"/>
<circle cx="511.18" cy="210.62" r="0.72" fill="#e8e8e8" stroke="#333" stroke-width="0.4"/>
<circle cx="511.49" cy="207.15" r="0.72" fill="#e8e8e8" stroke="#333" stroke-width="0.4"/>
<circle cx="511.52" cy="226.57" r="0.72" fill="#e8e8e8" stroke="#333" stroke-width="0.4"/>
<circle cx="509.80" cy="230.31" r="0.72" fill="#e8e8e8" stroke="#333" stroke-width="0.4"/>
<circle cx="510.75" cy="211.98" r="0.72" fill="#e8e8e8" stroke="#333" stroke-width="0.4"/>
<circle cx="510.65" cy="222.16" r="0.72" fill="#e8e8e8" stroke="#333" stroke-width="0.4"/>
<circle cx="511.78" cy="224.20" r="0.72" fill="#e8e8e8" stroke="#333" stroke-width="0.4"/>
<circle cx="512.91" cy="222.30" r="0.72" fill="#e8e8e8" stroke="#333" stroke-width="0.4"/>
<circle cx="513.33" cy="226.78" r="0.72" fill="#e8e8e8" stroke="#333" stroke-width="0.4"/>
<circle cx="511.38" cy="211.33" r="0.72" fill="#e8e8e8" stroke="#333" stroke-width="0.4"/>
<circle cx="511.27" cy="230.22" r="0.72" fill="#e8e8e8" stroke="#333" stroke-width="0.4"/>
<circle cx="511.65" cy="215.16" r="0.72" fill="#e8e8e8" stroke="#333" stroke-width="0.4"/>
<circle cx="512.63" cy="212.21" r="0.72" fill="#e8e8e8" stroke="#333" stroke-width="0.4"/>
<circle cx="510.24" cy="223.52" r="0.72" fill="#e8e8e8" stroke="#333" stroke-width="0.4"/>
<circle cx="511.78" cy="230.30" r="0.72" fill="#e8e8e8" stroke="#333" stroke-width="0.4"/>
<circle cx="512.02" cy="214.29" r="0.72" fill="#e8e8e8" stroke="#333" stroke-width="0.4"/>
<circle cx="511.07" cy="230.01" r="0.72" fill="#e8e8e8" stroke="#333" stroke-width="0.4"/>
<circle cx="511.04" cy="206.05" r="0.72" fill="#e8e8e8" stroke="#333" stroke-width="0.4"/>
<circle cx="511.77" cy="208.10" r="0.72" fill="#e8e8e8" stroke="#333" stroke-width="0.4"/>
<circle cx="512.75" cy="215.84" r="0.72" fill="#e8e8e8" stroke="#333" stroke-width="0.4"/>
<circle cx="510.37" cy="212.96" r="0.72" fill="#e8e8e8" stroke="#333" stroke-width="0.4"/>
<circle cx="510.46" cy="219.63" r="0.72" fill="#e8e8e8" stroke="#333" stroke-width="0.4"/>
<circle cx="510.88" cy="215.81" r="0.72" fill="#e8e8e8" stroke="#333" stroke-width="0.4"/>
<circle cx="512.06" cy="212.13" r="0.72" fill="#e8e8e8" stroke="#333" stroke-width="0.4"/>
<circle cx="511.17" cy="229.75" r="0.72" fill="#e8e8e8" stroke="#333" stroke-width="0.4"/>
<circle cx="511.06" cy="223.57" r="0.72" fill="#e8e8e8" stroke="#333" stroke-width="0.4"/>
<circle cx="511.91" cy="229.33" r="0.72" fill="#e8e8e8" stroke="#333" stroke-width="0.4"/>
<circle cx="512.24" cy="206.84" r="0.72" fill="#e8e8e8" stroke="#333" stroke-width="0.4"/>
<circle cx="510.45" cy="213.06" r="0.72" fill="#e8e8e8" stroke="#333" stroke-width="0.4"/>
<circle cx="512.45" cy="206.35" r="0.72" fill="#e8e8e8" stroke="#333" stroke-width="0.4"/>
<circle cx="511.17" cy="225.11" r="0.72" fill="#e8e8e8" stroke="#333" stroke-width="0.4"/>
<circle cx="512.41" cy="221.78" r="0.72" fill="#e8e8e8" stroke="#333" stroke-width="0.4"/>
<circle cx="512.19" cy="208.74" r="0.72" fill="#e8e8e8" stroke="#333" stroke-width="0.4"/>
<circle cx="513.35" cy="225.08" r="0.72" fill="#e8e8e8" stroke="#333" stroke-width="0.4"/>
<circle cx="511.87" cy="208.12" r="0.72" fill="#e8e8e8" stroke="#333" stroke-width="0.4"/>
<circle cx="512.86" cy="220.65" r="0.72" fill="#e8e8e8" stroke="#333" stroke-width="0.4"/>
<circle cx="512.20" cy="217.19" r="0.72" fill="#e8e8e8" stroke="#333" stroke-width="0.4"/>
<circle cx="511.09" cy="228.97" r="0.72" fill="#e8e8e8" stroke="#333" stroke-width="0.4"/>
<circle cx="513.03" cy="220.82" r="0.72" fill="#e8e8e8" stroke="#333" stroke-width="0.4"/>
<circle cx="512.77" cy="207.06" r="0.72" fill="#e8e8e8" stroke="#333" stroke-width="0.4"/>
<circle cx="511.57" cy="215.88" r="0.72" fill="#e8e8e8" stroke="#333" stroke-width="0.4"/>
<circle cx="512.57" cy="215.21" r="0.72" fill="#e8e8e8" stroke="#333" stroke-width="0.4"/>
<circle cx="512.54" cy="221.21" r="0.72" fill="#e8e8e8" stroke="#333" stroke-width="0.4"/>
<circle cx="512.64" cy="209.76" r="0.72" fill="#e8e8e8" stroke="#333" stroke-width="0.4"/>
<circle cx="512.41" cy="227.42" r="0.72" fill="#e8e8e8" stroke="#333" stroke-width="0.4"/>
<circle cx="511.03" cy="213.43" r="0.72" fill="#e8e8e8" stroke="#333" stroke-width="0.4"/>
<circle cx="510.28" cy="219.33" r="0.72" fill="#e8e8e8" stroke="#333" stroke-width="0.4"/>
<circle cx="511.32" cy="230.09" r="0.72" fill="#e8e8e8" stroke="#333" stroke-width="0.4"/>
<circle cx="510.39" cy="230.09" r="0.72" fill="#e8e8e8" stroke="#333" stroke-width="0.4"/>
<circle cx="512.78" cy="223.78" r="0.72" fill="#e8e8e8" stroke="#333" stroke-width="0.4"/>
<circle cx="511.42" cy="223.70" r="0.72" fill="#e8e8e8" stroke="#333" stroke-width="0.4"/>
<circle cx="511.56" cy="206.34" r="0.72" fill="#e8e8e8" stroke="#333" stroke-width="0.4"/>
<circle cx="513.10" cy="217.83" r="0.72" fill="#e8e8e8" stroke="#333" stroke-width="0.4"/>
<circle cx="513.60" cy="230.48" r="0.72" fill="#e8e8e8" stroke="#333" stroke-width="0.4"/>
<circle cx="510.32" cy="230.61" r="0.72" fill="#e8e8e8" stroke="#333" stroke-width="0.4"/>
<circle cx="511.23" cy="206.86" r="0.72" fill="#e8e8e8" stroke="#333" stroke-width="0.4"/>
<circle cx="510.88" cy="205.69" r="0.72" fill="#e8e8e8" stroke="#333" stroke-width="0.4"/>
<circle cx="510.66" cy="222.22" r="0.72" fill="#e8e8e8" stroke="#333" stroke-width="0.4"/>
<circle cx="511.28" cy="222.96" r="0.72" fill="#e8e8e8" stroke="#333" stroke-width="0.4"/>
<circle cx="513.06" cy="214.85" r="0.72" fill="#e8e8e8" stroke="#333" stroke-width="0.4"/>
<circle cx="512.73" cy="212.37" r="0.72" fill="#e8e8e8" stroke="#333" stroke-width="0.4"/>
<circle cx="512.25" cy="221.08" r="0.72" fill="#e8e8e8" stroke="#333" stroke-width="0.4"/>
<circle cx="512.33" cy="211.08" r="0.72" fill="#e8e8e8" stroke="#333" stroke-width="0.4"/>
<circle cx="510.49" cy="228.82" r="0.72" fill="#e8e8e8" stroke="#333" stroke-width="0.4"/>
<circle cx="512.21" cy="219.82" r="0.72" fill="#e8e8e8" stroke="#333" stroke-width="0.4"/>
<circle cx="512.53" cy="219.87" r="0.72" fill="#e8e8e8" stroke="#333" stroke-width="0.4"/>
<circle cx="511.03" cy="223.70" r="0.72" fill="#e8e8e8" stroke="#333" stroke-width="0.4"/>
<circle cx="512.70" cy="224.49" r="0.72" fill="#e8e8e8" stroke="#333" stroke-width="0.4"/>
<circle cx="512.00" cy="219.60" r="0.72" fill="#e8e8e8" stroke="#333" stroke-width="0.4"/>
<circle cx="511.62" cy="223.49" r="0.72" fill="#e8e8e8" stroke="#333" stroke-width="0.4"/>
<circle cx="511.47" cy="209.23" r="0.72" fill="#e8e8e8" stroke="#333" stroke-width="0.4"/>
<circle cx="511.72" cy="189.20" r="0.72" fill="#e8e8e8" stroke="#333" stroke-width="0.4"/>
<circle cx="511.68" cy="197.60" r="0.72" fill="#e8e8e8" stroke="#333" stroke-width="0.4"/>
<circle cx="511.16" cy="200.00" r="0.72" fill="#e8e8e8" stroke="#333" stroke-width="0.4"/>
<circle cx="511.48" cy="202.50" r="0.72" fill="#e8e8e8" stroke="#333" stroke-width="0.4"/>
<text x="503.40" y="154.60" font-size="6.4" text-anchor="middle" fill="#000" stroke="#000" stroke-width="0.12" >0.0101</text>
<polyline points="496.80,160.80 496.80,157.60 511.30,157.60 511.30,183.20" fill="none" stroke="#000" stroke-width="0.7"/>
<text x="506.00" y="185.20" font-size="6.9" text-anchor="middle" fill="#27a9e6" stroke="#27a9e6" stroke-width="0.12" transform="rotate(-90 506.00 185.20)" >Fluo8</text>
<text x="499.40" y="240.60" font-size="6.3" text-anchor="end" fill="#000" stroke="#000" stroke-width="0.12" transform="rotate(-45 499.40 240.60)" >GC<tspan dy="-2.4" font-size="5.0" stroke-width="0.08">+/+</tspan><tspan dy="2.4"> + HFD</tspan></text>
<text x="514.10" y="240.60" font-size="6.3" text-anchor="end" fill="#000" stroke="#000" stroke-width="0.12" transform="rotate(-45 514.10 240.60)" >GC<tspan dy="-2.4" font-size="5.0" stroke-width="0.08">-/-</tspan><tspan dy="2.4"> + HFD</tspan></text>
</svg></body></html>
